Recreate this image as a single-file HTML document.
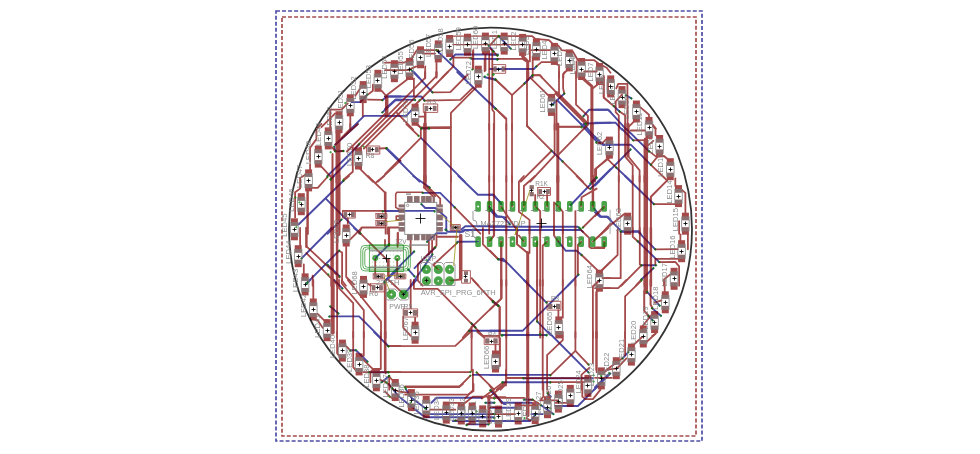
<!DOCTYPE html>
<html><head><meta charset="utf-8"><title>PCB layout</title>
<style>
html,body{margin:0;padding:0;background:#fff}
body{width:980px;height:454px;overflow:hidden}
svg{display:block}
text{font-family:"Liberation Sans",sans-serif}
</style></head><body>
<svg width="980" height="454" viewBox="0 0 980 454">
<rect width="980" height="454" fill="#fff"/>
<g opacity="0.706">
<polyline points="437.7,51.4 465.3,77.7" fill="none" stroke="rgb(0,0,128)" stroke-width="1.9" stroke-linecap="round" stroke-linejoin="round"/>
<polyline points="450.3,59.5 455.3,54.5 498,54.5" fill="none" stroke="rgb(0,0,128)" stroke-width="1.9" stroke-linecap="round" stroke-linejoin="round"/>
<polyline points="471.6,58.9 498,58.9" fill="none" stroke="rgb(0,0,128)" stroke-width="1.9" stroke-linecap="round" stroke-linejoin="round"/>
<polyline points="412,70.8 418.9,77.7" fill="none" stroke="rgb(0,0,128)" stroke-width="1.9" stroke-linecap="round" stroke-linejoin="round"/>
<polyline points="488.6,45.7 493.6,51.4" fill="none" stroke="rgb(0,0,128)" stroke-width="1.9" stroke-linecap="round" stroke-linejoin="round"/>
<polyline points="490,54.5 497.5,54.9" fill="none" stroke="rgb(0,0,128)" stroke-width="1.9" stroke-linecap="round" stroke-linejoin="round"/>
<polyline points="490,58.9 497.5,59.2" fill="none" stroke="rgb(0,0,128)" stroke-width="1.9" stroke-linecap="round" stroke-linejoin="round"/>
<polyline points="490,69 533.9,69 536.4,66.4" fill="none" stroke="rgb(0,0,128)" stroke-width="1.9" stroke-linecap="round" stroke-linejoin="round"/>
<polyline points="498.8,36.3 510.7,48.6" fill="none" stroke="rgb(0,0,128)" stroke-width="1.9" stroke-linecap="round" stroke-linejoin="round"/>
<polyline points="595,109.7 608.2,109.7 626.4,129.7" fill="none" stroke="rgb(0,0,128)" stroke-width="1.9" stroke-linecap="round" stroke-linejoin="round"/>
<polyline points="595,122.8 615.7,122.8 622,129.7" fill="none" stroke="rgb(0,0,128)" stroke-width="1.9" stroke-linecap="round" stroke-linejoin="round"/>
<polyline points="625.8,95.2 631.4,98.4" fill="none" stroke="rgb(0,0,128)" stroke-width="1.9" stroke-linecap="round" stroke-linejoin="round"/>
<polyline points="613.8,106.1 619.5,111.5" fill="none" stroke="rgb(0,0,128)" stroke-width="1.9" stroke-linecap="round" stroke-linejoin="round"/>
<polyline points="626.4,129 649.2,151.4" fill="none" stroke="rgb(0,0,128)" stroke-width="1.9" stroke-linecap="round" stroke-linejoin="round"/>
<polyline points="622,129 633.3,140.3" fill="none" stroke="rgb(0,0,128)" stroke-width="1.9" stroke-linecap="round" stroke-linejoin="round"/>
<polyline points="595,136.6 603.2,144.7 630.8,144.7 650.9,164.8" fill="none" stroke="rgb(0,0,128)" stroke-width="1.9" stroke-linecap="round" stroke-linejoin="round"/>
<polyline points="630.5,149.5 598.8,181.7" fill="none" stroke="rgb(0,0,128)" stroke-width="1.9" stroke-linecap="round" stroke-linejoin="round"/>
<polyline points="616.3,167.6 631.4,181.7" fill="none" stroke="rgb(0,0,128)" stroke-width="1.9" stroke-linecap="round" stroke-linejoin="round"/>
<polyline points="595,185.5 598.8,181.8" fill="none" stroke="rgb(0,0,128)" stroke-width="1.9" stroke-linecap="round" stroke-linejoin="round"/>
<polyline points="625.1,176 654,204.2" fill="none" stroke="rgb(0,0,128)" stroke-width="1.9" stroke-linecap="round" stroke-linejoin="round"/>
<polyline points="595,212.4 600,216.8 606.9,216.8 621.4,231.2 638.9,231.2 640.8,233.7" fill="none" stroke="rgb(0,0,128)" stroke-width="1.9" stroke-linecap="round" stroke-linejoin="round"/>
<polyline points="620.7,231.8 638.3,231.8 655.3,249.3" fill="none" stroke="rgb(0,0,128)" stroke-width="1.9" stroke-linecap="round" stroke-linejoin="round"/>
<polyline points="637.7,241.2 659.3,262.1" fill="none" stroke="rgb(0,0,128)" stroke-width="1.9" stroke-linecap="round" stroke-linejoin="round"/>
<polyline points="641.4,265.3 655.9,265.3" fill="none" stroke="rgb(0,0,128)" stroke-width="1.9" stroke-linecap="round" stroke-linejoin="round"/>
<polyline points="653.4,268.2 641.4,279.5" fill="none" stroke="rgb(0,0,128)" stroke-width="1.9" stroke-linecap="round" stroke-linejoin="round"/>
<polyline points="647.1,291.9 659.6,305.7" fill="none" stroke="rgb(0,0,128)" stroke-width="1.9" stroke-linecap="round" stroke-linejoin="round"/>
<polyline points="652.1,308.2 660.9,315.8" fill="none" stroke="rgb(0,0,128)" stroke-width="1.9" stroke-linecap="round" stroke-linejoin="round"/>
<polyline points="648.3,315.8 652.7,320.4" fill="none" stroke="rgb(0,0,128)" stroke-width="1.9" stroke-linecap="round" stroke-linejoin="round"/>
<polyline points="628.3,352.1 622.6,358.4" fill="none" stroke="rgb(0,0,128)" stroke-width="1.9" stroke-linecap="round" stroke-linejoin="round"/>
<polyline points="609.4,373.4 595,387.2" fill="none" stroke="rgb(0,0,128)" stroke-width="1.9" stroke-linecap="round" stroke-linejoin="round"/>
<polyline points="490.6,390.3 502.6,402.8 531.4,402.8" fill="none" stroke="rgb(0,0,128)" stroke-width="1.9" stroke-linecap="round" stroke-linejoin="round"/>
<polyline points="490,407.8 516.4,407.8" fill="none" stroke="rgb(0,0,128)" stroke-width="1.9" stroke-linecap="round" stroke-linejoin="round"/>
<polyline points="490,414.1 495,414.1" fill="none" stroke="rgb(0,0,128)" stroke-width="1.9" stroke-linecap="round" stroke-linejoin="round"/>
<polyline points="531.4,414.1 542.7,414.1" fill="none" stroke="rgb(0,0,128)" stroke-width="1.9" stroke-linecap="round" stroke-linejoin="round"/>
<polyline points="490,421 530.2,421 535.2,414.8" fill="none" stroke="rgb(0,0,128)" stroke-width="1.9" stroke-linecap="round" stroke-linejoin="round"/>
<polyline points="523.9,399.7 532.7,399.7" fill="none" stroke="rgb(0,0,128)" stroke-width="1.9" stroke-linecap="round" stroke-linejoin="round"/>
<polyline points="555.3,406 577.9,406 597.9,385.9" fill="none" stroke="rgb(0,0,128)" stroke-width="1.9" stroke-linecap="round" stroke-linejoin="round"/>
<polyline points="540.8,405.1 553.4,414.1" fill="none" stroke="rgb(0,0,128)" stroke-width="1.9" stroke-linecap="round" stroke-linejoin="round"/>
<polyline points="547.7,393.4 550.9,396.6" fill="none" stroke="rgb(0,0,128)" stroke-width="1.9" stroke-linecap="round" stroke-linejoin="round"/>
<polyline points="431.4,402.8 436.5,397.8 481.7,397.8" fill="none" stroke="rgb(0,0,128)" stroke-width="1.9" stroke-linecap="round" stroke-linejoin="round"/>
<polyline points="430.2,414.1 494.2,414.1" fill="none" stroke="rgb(0,0,128)" stroke-width="1.9" stroke-linecap="round" stroke-linejoin="round"/>
<polyline points="426.4,417.3 494.2,417.3" fill="none" stroke="rgb(0,0,128)" stroke-width="1.9" stroke-linecap="round" stroke-linejoin="round"/>
<polyline points="452.8,421 489.2,421" fill="none" stroke="rgb(0,0,128)" stroke-width="1.9" stroke-linecap="round" stroke-linejoin="round"/>
<polyline points="466.6,424.4 487.9,424.4" fill="none" stroke="rgb(0,0,128)" stroke-width="1.9" stroke-linecap="round" stroke-linejoin="round"/>
<polyline points="490.4,390.3 504.2,404.1 505.5,404.1" fill="none" stroke="rgb(0,0,128)" stroke-width="1.9" stroke-linecap="round" stroke-linejoin="round"/>
<polyline points="388.8,384 398.8,396.6 422.7,415.4 426.4,417.3" fill="none" stroke="rgb(0,0,128)" stroke-width="1.9" stroke-linecap="round" stroke-linejoin="round"/>
<polyline points="405.7,389 411.4,397.8 426.4,409.1" fill="none" stroke="rgb(0,0,128)" stroke-width="1.9" stroke-linecap="round" stroke-linejoin="round"/>
<polyline points="485.4,402.8 494.2,402.8" fill="none" stroke="rgb(0,0,128)" stroke-width="1.9" stroke-linecap="round" stroke-linejoin="round"/>
<polyline points="374.1,332 388.6,346.4" fill="none" stroke="rgb(0,0,128)" stroke-width="1.9" stroke-linecap="round" stroke-linejoin="round"/>
<polyline points="350.3,350.2 355.9,350.2 367.5,361.7" fill="none" stroke="rgb(0,0,128)" stroke-width="1.9" stroke-linecap="round" stroke-linejoin="round"/>
<polyline points="368.7,372.2 388.6,372.2" fill="none" stroke="rgb(0,0,128)" stroke-width="1.9" stroke-linecap="round" stroke-linejoin="round"/>
<polyline points="381.7,382.2 389.2,375.9" fill="none" stroke="rgb(0,0,128)" stroke-width="1.9" stroke-linecap="round" stroke-linejoin="round"/>
<polyline points="334,280 342.4,288.4" fill="none" stroke="rgb(0,0,128)" stroke-width="1.9" stroke-linecap="round" stroke-linejoin="round"/>
<polyline points="330.2,306.4 338.4,313.5" fill="none" stroke="rgb(0,0,128)" stroke-width="1.9" stroke-linecap="round" stroke-linejoin="round"/>
<polyline points="329.3,316.4 359.1,316.4 380.4,337.7" fill="none" stroke="rgb(0,0,128)" stroke-width="1.9" stroke-linecap="round" stroke-linejoin="round"/>
<polyline points="307.6,282.5 310.1,280" fill="none" stroke="rgb(0,0,128)" stroke-width="1.9" stroke-linecap="round" stroke-linejoin="round"/>
<polyline points="301.6,258.4 331.5,228" fill="none" stroke="rgb(0,0,128)" stroke-width="1.9" stroke-linecap="round" stroke-linejoin="round"/>
<polyline points="307,282.9 339.2,250.6" fill="none" stroke="rgb(0,0,128)" stroke-width="1.9" stroke-linecap="round" stroke-linejoin="round"/>
<polyline points="327.7,265 339.6,276.3" fill="none" stroke="rgb(0,0,128)" stroke-width="1.9" stroke-linecap="round" stroke-linejoin="round"/>
<polyline points="354.1,228 360.3,233.3" fill="none" stroke="rgb(0,0,128)" stroke-width="1.9" stroke-linecap="round" stroke-linejoin="round"/>
<polyline points="375.4,258.1 389.2,244.3" fill="none" stroke="rgb(0,0,128)" stroke-width="1.9" stroke-linecap="round" stroke-linejoin="round"/>
<polyline points="384.2,282.2 400.5,266.9" fill="none" stroke="rgb(0,0,128)" stroke-width="1.9" stroke-linecap="round" stroke-linejoin="round"/>
<polyline points="298.8,224.3 343.4,180.8" fill="none" stroke="rgb(0,0,128)" stroke-width="1.9" stroke-linecap="round" stroke-linejoin="round"/>
<polyline points="325.8,198.6 360.3,233.7" fill="none" stroke="rgb(0,0,128)" stroke-width="1.9" stroke-linecap="round" stroke-linejoin="round"/>
<polyline points="327.7,233.7 341.5,219.6" fill="none" stroke="rgb(0,0,128)" stroke-width="1.9" stroke-linecap="round" stroke-linejoin="round"/>
<polyline points="382.7,211.1 400.5,211.1" fill="none" stroke="rgb(0,0,128)" stroke-width="1.9" stroke-linecap="round" stroke-linejoin="round"/>
<polyline points="330.6,179.5 334,176" fill="none" stroke="rgb(0,0,128)" stroke-width="1.9" stroke-linecap="round" stroke-linejoin="round"/>
<polyline points="386.7,148.1 400.5,161.4" fill="none" stroke="rgb(0,0,128)" stroke-width="1.9" stroke-linecap="round" stroke-linejoin="round"/>
<polyline points="335.2,144.7 357.8,124" fill="none" stroke="rgb(0,0,128)" stroke-width="1.9" stroke-linecap="round" stroke-linejoin="round"/>
<polyline points="327.7,175.7 356.6,147.2 359.3,144.1" fill="none" stroke="rgb(0,0,128)" stroke-width="1.9" stroke-linecap="round" stroke-linejoin="round"/>
<polyline points="334,175.7 350.3,159.1" fill="none" stroke="rgb(0,0,128)" stroke-width="1.9" stroke-linecap="round" stroke-linejoin="round"/>
<polyline points="334.2,146.6 335.2,151.4 343.4,151" fill="none" stroke="rgb(0,0,128)" stroke-width="1.9" stroke-linecap="round" stroke-linejoin="round"/>
<polyline points="351.5,102.1 360.3,102.1 367.2,94.6" fill="none" stroke="rgb(0,0,128)" stroke-width="1.9" stroke-linecap="round" stroke-linejoin="round"/>
<polyline points="382.3,100.2 386.7,96.5 400.5,96.5" fill="none" stroke="rgb(0,0,128)" stroke-width="1.9" stroke-linecap="round" stroke-linejoin="round"/>
<polyline points="382.3,112.4 395.5,100.2 400.5,100.2" fill="none" stroke="rgb(0,0,128)" stroke-width="1.9" stroke-linecap="round" stroke-linejoin="round"/>
<polyline points="350.3,129.7 364.1,115.9 400.5,115.9" fill="none" stroke="rgb(0,0,128)" stroke-width="1.9" stroke-linecap="round" stroke-linejoin="round"/>
<polyline points="413.9,72 432.4,92.3" fill="none" stroke="rgb(0,0,128)" stroke-width="1.9" stroke-linecap="round" stroke-linejoin="round"/>
<polyline points="385,96.5 421.4,96.5 424.5,100.6" fill="none" stroke="rgb(0,0,128)" stroke-width="1.9" stroke-linecap="round" stroke-linejoin="round"/>
<polyline points="385,109 395.7,99.4 415.1,99.9" fill="none" stroke="rgb(0,0,128)" stroke-width="1.9" stroke-linecap="round" stroke-linejoin="round"/>
<polyline points="385,115.9 406.3,115.9 412,109.7" fill="none" stroke="rgb(0,0,128)" stroke-width="1.9" stroke-linecap="round" stroke-linejoin="round"/>
<polyline points="457.2,72 495.5,108.7" fill="none" stroke="rgb(0,0,128)" stroke-width="1.9" stroke-linecap="round" stroke-linejoin="round"/>
<polyline points="484.2,77 495.5,79.8" fill="none" stroke="rgb(0,0,128)" stroke-width="1.9" stroke-linecap="round" stroke-linejoin="round"/>
<polyline points="421.4,128.1 428.9,128.1" fill="none" stroke="rgb(0,0,128)" stroke-width="1.9" stroke-linecap="round" stroke-linejoin="round"/>
<polyline points="524.5,83.5 532.4,75.5" fill="none" stroke="rgb(0,0,128)" stroke-width="1.9" stroke-linecap="round" stroke-linejoin="round"/>
<polyline points="551.5,105.3 564.3,93.6" fill="none" stroke="rgb(0,0,128)" stroke-width="1.9" stroke-linecap="round" stroke-linejoin="round"/>
<polyline points="557.2,100.2 585.4,128.5" fill="none" stroke="rgb(0,0,128)" stroke-width="1.9" stroke-linecap="round" stroke-linejoin="round"/>
<polyline points="583.5,116.2 589.2,109.7 608,109.7 610.5,111.9" fill="none" stroke="rgb(0,0,128)" stroke-width="1.9" stroke-linecap="round" stroke-linejoin="round"/>
<polyline points="585.4,123.5 610.5,122.8" fill="none" stroke="rgb(0,0,128)" stroke-width="1.9" stroke-linecap="round" stroke-linejoin="round"/>
<polyline points="490,78.3 495.6,79.5" fill="none" stroke="rgb(0,0,128)" stroke-width="1.9" stroke-linecap="round" stroke-linejoin="round"/>
<polyline points="490,102.8 495.6,108.7" fill="none" stroke="rgb(0,0,128)" stroke-width="1.9" stroke-linecap="round" stroke-linejoin="round"/>
<polyline points="386.3,148.5 419.5,181.7" fill="none" stroke="rgb(0,0,128)" stroke-width="1.9" stroke-linecap="round" stroke-linejoin="round"/>
<polyline points="421.2,138.1 464.7,181.7" fill="none" stroke="rgb(0,0,128)" stroke-width="1.9" stroke-linecap="round" stroke-linejoin="round"/>
<polyline points="421.4,128.6 429.2,128.6" fill="none" stroke="rgb(0,0,128)" stroke-width="1.9" stroke-linecap="round" stroke-linejoin="round"/>
<polyline points="581,124 596.7,141.6 603,144.7 610.5,144.7" fill="none" stroke="rgb(0,0,128)" stroke-width="1.9" stroke-linecap="round" stroke-linejoin="round"/>
<polyline points="583.5,124 597.9,140.3" fill="none" stroke="rgb(0,0,128)" stroke-width="1.9" stroke-linecap="round" stroke-linejoin="round"/>
<polyline points="551.5,150.6 562.6,161.4" fill="none" stroke="rgb(0,0,128)" stroke-width="1.9" stroke-linecap="round" stroke-linejoin="round"/>
<polyline points="597.9,181.7 610.5,169.2" fill="none" stroke="rgb(0,0,128)" stroke-width="1.9" stroke-linecap="round" stroke-linejoin="round"/>
<polyline points="591.7,181.7 596.4,177.7" fill="none" stroke="rgb(0,0,128)" stroke-width="1.9" stroke-linecap="round" stroke-linejoin="round"/>
<polyline points="413.2,176 429.6,187.5" fill="none" stroke="rgb(0,0,128)" stroke-width="1.9" stroke-linecap="round" stroke-linejoin="round"/>
<polyline points="422.7,192.9 440.2,192.9 454.7,207.4" fill="none" stroke="rgb(0,0,128)" stroke-width="1.9" stroke-linecap="round" stroke-linejoin="round"/>
<polyline points="421.4,204.2 425.2,208 435.2,208 446.3,217.4 446.3,230" fill="none" stroke="rgb(0,0,128)" stroke-width="1.9" stroke-linecap="round" stroke-linejoin="round"/>
<polyline points="385,210.9 434.6,210.9" fill="none" stroke="rgb(0,0,128)" stroke-width="1.9" stroke-linecap="round" stroke-linejoin="round"/>
<polyline points="458.4,176 477.9,194.8 492.9,194.8 500.5,202.4" fill="none" stroke="rgb(0,0,128)" stroke-width="1.9" stroke-linecap="round" stroke-linejoin="round"/>
<polyline points="489.2,206.8 497.3,216.2 505.5,217.4" fill="none" stroke="rgb(0,0,128)" stroke-width="1.9" stroke-linecap="round" stroke-linejoin="round"/>
<polyline points="461.6,229.3 465.3,226.2 505.5,226.2" fill="none" stroke="rgb(0,0,128)" stroke-width="1.9" stroke-linecap="round" stroke-linejoin="round"/>
<polyline points="459.7,232.5 464.1,230 505.5,230" fill="none" stroke="rgb(0,0,128)" stroke-width="1.9" stroke-linecap="round" stroke-linejoin="round"/>
<polyline points="490,194.8 493.8,194.8 501.3,204.2" fill="none" stroke="rgb(0,0,128)" stroke-width="1.9" stroke-linecap="round" stroke-linejoin="round"/>
<polyline points="490,209.9 496.3,216.8 502.6,216.8 510.1,224.3" fill="none" stroke="rgb(0,0,128)" stroke-width="1.9" stroke-linecap="round" stroke-linejoin="round"/>
<polyline points="490,226.8 577.9,226.8 582.9,231.9" fill="none" stroke="rgb(0,0,128)" stroke-width="1.9" stroke-linecap="round" stroke-linejoin="round"/>
<polyline points="490,230 580.4,230" fill="none" stroke="rgb(0,0,128)" stroke-width="1.9" stroke-linecap="round" stroke-linejoin="round"/>
<polyline points="570.3,205.5 596.7,177.9" fill="none" stroke="rgb(0,0,128)" stroke-width="1.9" stroke-linecap="round" stroke-linejoin="round"/>
<polyline points="590.4,188.8 604.2,176" fill="none" stroke="rgb(0,0,128)" stroke-width="1.9" stroke-linecap="round" stroke-linejoin="round"/>
<polyline points="594.2,208.6 601.1,216.8 608,216.8 610.5,219.3" fill="none" stroke="rgb(0,0,128)" stroke-width="1.9" stroke-linecap="round" stroke-linejoin="round"/>
<polyline points="445.3,229.3 447.8,231.8 462.8,231.8 465.3,229.9 505.5,229.9" fill="none" stroke="rgb(0,0,128)" stroke-width="1.9" stroke-linecap="round" stroke-linejoin="round"/>
<polyline points="427.1,241.8 436.5,233.3 446.5,233.3" fill="none" stroke="rgb(0,0,128)" stroke-width="1.9" stroke-linecap="round" stroke-linejoin="round"/>
<polyline points="457.2,241.8 478.1,241.6" fill="none" stroke="rgb(0,0,128)" stroke-width="1.9" stroke-linecap="round" stroke-linejoin="round"/>
<polyline points="435.2,247.5 414.5,268.2" fill="none" stroke="rgb(0,0,128)" stroke-width="1.9" stroke-linecap="round" stroke-linejoin="round"/>
<polyline points="432.4,254.4 410.7,285.7" fill="none" stroke="rgb(0,0,128)" stroke-width="1.9" stroke-linecap="round" stroke-linejoin="round"/>
<polyline points="414.1,251.5 385,280.7" fill="none" stroke="rgb(0,0,128)" stroke-width="1.9" stroke-linecap="round" stroke-linejoin="round"/>
<polyline points="408.2,269.4 414.5,276.3" fill="none" stroke="rgb(0,0,128)" stroke-width="1.9" stroke-linecap="round" stroke-linejoin="round"/>
<polyline points="498,259.1 505.5,261.6" fill="none" stroke="rgb(0,0,128)" stroke-width="1.9" stroke-linecap="round" stroke-linejoin="round"/>
<polyline points="490,229.9 580.4,229.9" fill="none" stroke="rgb(0,0,128)" stroke-width="1.9" stroke-linecap="round" stroke-linejoin="round"/>
<polyline points="498.2,259.4 503.2,258.8 529.5,285.7" fill="none" stroke="rgb(0,0,128)" stroke-width="1.9" stroke-linecap="round" stroke-linejoin="round"/>
<polyline points="558.4,241.6 565.9,250.8 576.6,250.8 581.6,255" fill="none" stroke="rgb(0,0,128)" stroke-width="1.9" stroke-linecap="round" stroke-linejoin="round"/>
<polyline points="578.5,274.7 567.8,285.7" fill="none" stroke="rgb(0,0,128)" stroke-width="1.9" stroke-linecap="round" stroke-linejoin="round"/>
<polyline points="403.6,294.4 416.4,280" fill="none" stroke="rgb(0,0,128)" stroke-width="1.9" stroke-linecap="round" stroke-linejoin="round"/>
<polyline points="469.1,330.8 505.5,330.8" fill="none" stroke="rgb(0,0,128)" stroke-width="1.9" stroke-linecap="round" stroke-linejoin="round"/>
<polyline points="492.9,302 498.6,305.7" fill="none" stroke="rgb(0,0,128)" stroke-width="1.9" stroke-linecap="round" stroke-linejoin="round"/>
<polyline points="471.6,323.3 475.4,327.4" fill="none" stroke="rgb(0,0,128)" stroke-width="1.9" stroke-linecap="round" stroke-linejoin="round"/>
<polyline points="523.9,280 546.5,302.6" fill="none" stroke="rgb(0,0,128)" stroke-width="1.9" stroke-linecap="round" stroke-linejoin="round"/>
<polyline points="573.5,280 522.6,330.8 490,330.8" fill="none" stroke="rgb(0,0,128)" stroke-width="1.9" stroke-linecap="round" stroke-linejoin="round"/>
<polyline points="501.9,334.9 546.5,334.9" fill="none" stroke="rgb(0,0,128)" stroke-width="1.9" stroke-linecap="round" stroke-linejoin="round"/>
<polyline points="537.1,321.4 550.3,334.9" fill="none" stroke="rgb(0,0,128)" stroke-width="1.9" stroke-linecap="round" stroke-linejoin="round"/>
<polyline points="492.5,300.7 498.2,305.7" fill="none" stroke="rgb(0,0,128)" stroke-width="1.9" stroke-linecap="round" stroke-linejoin="round"/>
<polyline points="472.9,374.9 505.5,374.9" fill="none" stroke="rgb(0,0,128)" stroke-width="1.9" stroke-linecap="round" stroke-linejoin="round"/>
<polyline points="385,342.7 388.1,346.2" fill="none" stroke="rgb(0,0,128)" stroke-width="1.9" stroke-linecap="round" stroke-linejoin="round"/>
<polyline points="501.7,335.1 505.5,335.1" fill="none" stroke="rgb(0,0,128)" stroke-width="1.9" stroke-linecap="round" stroke-linejoin="round"/>
<polyline points="501.9,335.1 546.5,335.1" fill="none" stroke="rgb(0,0,128)" stroke-width="1.9" stroke-linecap="round" stroke-linejoin="round"/>
<polyline points="548.4,332 588.5,372.4" fill="none" stroke="rgb(0,0,128)" stroke-width="1.9" stroke-linecap="round" stroke-linejoin="round"/>
<polyline points="490,374.9 550.3,374.9" fill="none" stroke="rgb(0,0,128)" stroke-width="1.9" stroke-linecap="round" stroke-linejoin="round"/>
<polyline points="523.3,378.2 592.9,378.2" fill="none" stroke="rgb(0,0,128)" stroke-width="1.9" stroke-linecap="round" stroke-linejoin="round"/>
<polyline points="502.6,382.2 550.3,382.2" fill="none" stroke="rgb(0,0,128)" stroke-width="1.9" stroke-linecap="round" stroke-linejoin="round"/>
<polyline points="610.5,373.4 594.2,389.7" fill="none" stroke="rgb(0,0,128)" stroke-width="1.9" stroke-linecap="round" stroke-linejoin="round"/>
</g>
<g opacity="0.706">
<polyline points="446.5,36.1 505.5,36.1" fill="none" stroke="rgb(128,0,0)" stroke-width="1.2" stroke-linecap="round" stroke-linejoin="round"/>
<polyline points="452.8,44.6 505.5,44.6" fill="none" stroke="rgb(128,0,0)" stroke-width="1.2" stroke-linecap="round" stroke-linejoin="round"/>
<polyline points="412,57.7 417,50.1 437.7,50.1" fill="none" stroke="rgb(128,0,0)" stroke-width="1.8" stroke-linecap="round" stroke-linejoin="round"/>
<polyline points="422.7,53.6 435.2,53.6" fill="none" stroke="rgb(128,0,0)" stroke-width="1.8" stroke-linecap="round" stroke-linejoin="round"/>
<polyline points="425.2,66.4 425.2,77.7" fill="none" stroke="rgb(128,0,0)" stroke-width="1.8" stroke-linecap="round" stroke-linejoin="round"/>
<polyline points="436.5,61.4 436.5,77.7" fill="none" stroke="rgb(128,0,0)" stroke-width="1.8" stroke-linecap="round" stroke-linejoin="round"/>
<polyline points="453.4,57.7 453.4,66.4 442.1,77.7" fill="none" stroke="rgb(128,0,0)" stroke-width="1.8" stroke-linecap="round" stroke-linejoin="round"/>
<polyline points="453.4,57.7 471.6,57.7" fill="none" stroke="rgb(128,0,0)" stroke-width="1.8" stroke-linecap="round" stroke-linejoin="round"/>
<polyline points="472.9,51.4 472.9,69" fill="none" stroke="rgb(128,0,0)" stroke-width="2" stroke-linecap="round" stroke-linejoin="round"/>
<polyline points="485.4,51.4 485.4,70.2" fill="none" stroke="rgb(128,0,0)" stroke-width="2" stroke-linecap="round" stroke-linejoin="round"/>
<polyline points="385,62.7 403.8,62.7 408.8,60.2" fill="none" stroke="rgb(128,0,0)" stroke-width="1.8" stroke-linecap="round" stroke-linejoin="round"/>
<polyline points="385,70.2 407.6,70.2 416.4,66.4" fill="none" stroke="rgb(128,0,0)" stroke-width="1.8" stroke-linecap="round" stroke-linejoin="round"/>
<polyline points="490,36.1 532.1,36.1 535.2,38.8 549,40.1 552.8,43.8 558.4,45.7 561.5,50.1 572.8,51.4 577.9,60.2 594.2,60.2 599.2,63.9 606.7,67.7 610.5,72.7" fill="none" stroke="rgb(128,0,0)" stroke-width="1.8" stroke-linecap="round" stroke-linejoin="round"/>
<polyline points="490,44.6 530.2,44.6" fill="none" stroke="rgb(128,0,0)" stroke-width="1.2" stroke-linecap="round" stroke-linejoin="round"/>
<polyline points="529.9,45.1 529.9,61.4" fill="none" stroke="rgb(128,0,0)" stroke-width="1.8" stroke-linecap="round" stroke-linejoin="round"/>
<polyline points="531.4,50.1 550.3,50.1" fill="none" stroke="rgb(128,0,0)" stroke-width="1.8" stroke-linecap="round" stroke-linejoin="round"/>
<polyline points="522.6,56.4 527.7,61.4 527.7,77.7" fill="none" stroke="rgb(128,0,0)" stroke-width="3" stroke-linecap="round" stroke-linejoin="round"/>
<polyline points="497.5,58.9 522.6,58.9 526.4,61.4" fill="none" stroke="rgb(128,0,0)" stroke-width="1.8" stroke-linecap="round" stroke-linejoin="round"/>
<polyline points="532.7,56.4 532.7,77.7" fill="none" stroke="rgb(128,0,0)" stroke-width="1.8" stroke-linecap="round" stroke-linejoin="round"/>
<polyline points="536.4,66.4 541.5,62.1 551.5,62.1 559,65.2 559,77.7" fill="none" stroke="rgb(128,0,0)" stroke-width="1.8" stroke-linecap="round" stroke-linejoin="round"/>
<polyline points="563.4,77.7 563.4,74 567.2,70.2" fill="none" stroke="rgb(128,0,0)" stroke-width="1.8" stroke-linecap="round" stroke-linejoin="round"/>
<polyline points="576.6,77.7 576.6,61.4" fill="none" stroke="rgb(128,0,0)" stroke-width="1.8" stroke-linecap="round" stroke-linejoin="round"/>
<polyline points="584.1,71.5 596.7,71.5" fill="none" stroke="rgb(128,0,0)" stroke-width="1.8" stroke-linecap="round" stroke-linejoin="round"/>
<polyline points="498.8,35.7 490,45.1" fill="none" stroke="rgb(128,0,0)" stroke-width="1.8" stroke-linecap="round" stroke-linejoin="round"/>
<polyline points="490,48.2 497.5,55.8" fill="none" stroke="rgb(128,0,0)" stroke-width="1.8" stroke-linecap="round" stroke-linejoin="round"/>
<polyline points="492.5,64.6 505.7,64.6 505.7,73.3 492.5,73.3 492.5,64.6" fill="none" stroke="rgb(128,0,0)" stroke-width="0.9" stroke-linecap="round" stroke-linejoin="round"/>
<polyline points="532.7,75.2 540.2,75.2 542.1,77.7" fill="none" stroke="rgb(128,0,0)" stroke-width="1.8" stroke-linecap="round" stroke-linejoin="round"/>
<polyline points="603.8,75.8 603.8,97.7 613.8,106.1" fill="none" stroke="rgb(128,0,0)" stroke-width="1.8" stroke-linecap="round" stroke-linejoin="round"/>
<polyline points="619.5,111.5 625.1,115.3 625.1,129.7" fill="none" stroke="rgb(128,0,0)" stroke-width="1.8" stroke-linecap="round" stroke-linejoin="round"/>
<polyline points="616.3,88.3 618.2,83.9 627.4,83.9 627.6,129.7" fill="none" stroke="rgb(128,0,0)" stroke-width="1.8" stroke-linecap="round" stroke-linejoin="round"/>
<polyline points="622,94.6 615.7,101.5 615.7,112.2 618.8,115.3 618.8,129.7" fill="none" stroke="rgb(128,0,0)" stroke-width="1.8" stroke-linecap="round" stroke-linejoin="round"/>
<polyline points="640.2,107.1 649,114.7 649,118.4" fill="none" stroke="rgb(128,0,0)" stroke-width="1.8" stroke-linecap="round" stroke-linejoin="round"/>
<polyline points="633.9,121.6 628.3,127.2 628.3,129.7" fill="none" stroke="rgb(128,0,0)" stroke-width="1.8" stroke-linecap="round" stroke-linejoin="round"/>
<polyline points="652.7,124.7 655.9,128.5" fill="none" stroke="rgb(128,0,0)" stroke-width="1.8" stroke-linecap="round" stroke-linejoin="round"/>
<polyline points="618.8,124 618.8,181.7" fill="none" stroke="rgb(128,0,0)" stroke-width="1.8" stroke-linecap="round" stroke-linejoin="round"/>
<polyline points="625.1,124 625.1,156.6 632.7,165.4 632.7,181.7" fill="none" stroke="rgb(128,0,0)" stroke-width="1.8" stroke-linecap="round" stroke-linejoin="round"/>
<polyline points="627.9,124 627.9,156" fill="none" stroke="rgb(128,0,0)" stroke-width="3.2" stroke-linecap="round" stroke-linejoin="round"/>
<polyline points="627.9,156 639.6,170.4 639.6,181.7" fill="none" stroke="rgb(128,0,0)" stroke-width="1.8" stroke-linecap="round" stroke-linejoin="round"/>
<polyline points="645.8,139.7 645.8,181.7" fill="none" stroke="rgb(128,0,0)" stroke-width="4.5" stroke-linecap="round" stroke-linejoin="round"/>
<polyline points="630.8,130.5 645.2,130.5" fill="none" stroke="rgb(128,0,0)" stroke-width="1.8" stroke-linecap="round" stroke-linejoin="round"/>
<polyline points="633.3,140.3 645.2,140.1" fill="none" stroke="rgb(128,0,0)" stroke-width="1.8" stroke-linecap="round" stroke-linejoin="round"/>
<polyline points="652.7,125.9 655.5,129 655.5,135.3 659,137.2" fill="none" stroke="rgb(128,0,0)" stroke-width="1.8" stroke-linecap="round" stroke-linejoin="round"/>
<polyline points="659.6,154.1 650.9,164.8" fill="none" stroke="rgb(128,0,0)" stroke-width="1.8" stroke-linecap="round" stroke-linejoin="round"/>
<polyline points="649.2,151.4 656.5,156.9 664,156 668.4,159.8" fill="none" stroke="rgb(128,0,0)" stroke-width="1.8" stroke-linecap="round" stroke-linejoin="round"/>
<polyline points="650.9,164.8 667.2,180.5" fill="none" stroke="rgb(128,0,0)" stroke-width="1.8" stroke-linecap="round" stroke-linejoin="round"/>
<polyline points="609.4,157.9 595,169.2 595,181.7" fill="none" stroke="rgb(128,0,0)" stroke-width="1.8" stroke-linecap="round" stroke-linejoin="round"/>
<polyline points="607.6,159.1 616.3,167.6" fill="none" stroke="rgb(128,0,0)" stroke-width="1.8" stroke-linecap="round" stroke-linejoin="round"/>
<polyline points="596.3,142.6 602.5,142.8 606.3,139.1" fill="none" stroke="rgb(128,0,0)" stroke-width="1.8" stroke-linecap="round" stroke-linejoin="round"/>
<polyline points="646.5,146.6 653.4,140.9" fill="none" stroke="rgb(128,0,0)" stroke-width="1.8" stroke-linecap="round" stroke-linejoin="round"/>
<polyline points="618.8,176 618.8,212.4" fill="none" stroke="rgb(128,0,0)" stroke-width="1.8" stroke-linecap="round" stroke-linejoin="round"/>
<polyline points="623.9,214.3 607.6,227.5 601.3,233.7" fill="none" stroke="rgb(128,0,0)" stroke-width="1.8" stroke-linecap="round" stroke-linejoin="round"/>
<polyline points="604.4,206.8 595,216.2" fill="none" stroke="rgb(128,0,0)" stroke-width="1.8" stroke-linecap="round" stroke-linejoin="round"/>
<polyline points="632.7,176 632.7,233.7" fill="none" stroke="rgb(128,0,0)" stroke-width="1.8" stroke-linecap="round" stroke-linejoin="round"/>
<polyline points="639.6,176 639.6,233.7" fill="none" stroke="rgb(128,0,0)" stroke-width="1.8" stroke-linecap="round" stroke-linejoin="round"/>
<polyline points="645.8,176 645.8,233.7" fill="none" stroke="rgb(128,0,0)" stroke-width="4.5" stroke-linecap="round" stroke-linejoin="round"/>
<polyline points="650.9,233.7 650.9,196.7 667.2,180.4" fill="none" stroke="rgb(128,0,0)" stroke-width="2" stroke-linecap="round" stroke-linejoin="round"/>
<polyline points="654,204.2 675.3,204.2" fill="none" stroke="rgb(128,0,0)" stroke-width="1.8" stroke-linecap="round" stroke-linejoin="round"/>
<polyline points="675.3,178.5 675.3,186" fill="none" stroke="rgb(128,0,0)" stroke-width="1.8" stroke-linecap="round" stroke-linejoin="round"/>
<polyline points="681.6,189.8 685.4,192.9 685.4,213.7" fill="none" stroke="rgb(128,0,0)" stroke-width="1.8" stroke-linecap="round" stroke-linejoin="round"/>
<polyline points="679.1,221.2 679.1,233.7" fill="none" stroke="rgb(128,0,0)" stroke-width="1.8" stroke-linecap="round" stroke-linejoin="round"/>
<polyline points="645.8,228 645.8,285.7" fill="none" stroke="rgb(128,0,0)" stroke-width="4.5" stroke-linecap="round" stroke-linejoin="round"/>
<polyline points="650.9,228 650.9,285.7" fill="none" stroke="rgb(128,0,0)" stroke-width="2.5" stroke-linecap="round" stroke-linejoin="round"/>
<polyline points="639.8,228 639.8,264.4 641.4,265.3 621.4,285.7" fill="none" stroke="rgb(128,0,0)" stroke-width="1.8" stroke-linecap="round" stroke-linejoin="round"/>
<polyline points="632.7,228 632.7,236.8 637.7,241.2" fill="none" stroke="rgb(128,0,0)" stroke-width="1.8" stroke-linecap="round" stroke-linejoin="round"/>
<polyline points="617.6,229.3 617.6,255 601.3,270.7" fill="none" stroke="rgb(128,0,0)" stroke-width="1.8" stroke-linecap="round" stroke-linejoin="round"/>
<polyline points="620.7,231.8 620.7,278.2 602.5,278.2" fill="none" stroke="rgb(128,0,0)" stroke-width="1.8" stroke-linecap="round" stroke-linejoin="round"/>
<polyline points="595,247.5 604.4,247.5 604.4,241.8" fill="none" stroke="rgb(128,0,0)" stroke-width="1.8" stroke-linecap="round" stroke-linejoin="round"/>
<polyline points="595,239.3 607.6,228" fill="none" stroke="rgb(128,0,0)" stroke-width="1.8" stroke-linecap="round" stroke-linejoin="round"/>
<polyline points="655.3,249.3 677.8,249.1" fill="none" stroke="rgb(128,0,0)" stroke-width="1.8" stroke-linecap="round" stroke-linejoin="round"/>
<polyline points="659.3,262.1 675.3,261.9 679.1,266.3 679.1,285.7" fill="none" stroke="rgb(128,0,0)" stroke-width="1.8" stroke-linecap="round" stroke-linejoin="round"/>
<polyline points="655.3,264.4 655.3,258.8 677.8,258.8" fill="none" stroke="rgb(128,0,0)" stroke-width="1.8" stroke-linecap="round" stroke-linejoin="round"/>
<polyline points="680.4,234.3 680.4,241.8" fill="none" stroke="rgb(128,0,0)" stroke-width="1.8" stroke-linecap="round" stroke-linejoin="round"/>
<polyline points="687.9,234.3 687.9,249.3" fill="none" stroke="rgb(128,0,0)" stroke-width="1.8" stroke-linecap="round" stroke-linejoin="round"/>
<polyline points="670.3,274.4 664,279.5 664,285.7" fill="none" stroke="rgb(128,0,0)" stroke-width="1.8" stroke-linecap="round" stroke-linejoin="round"/>
<polyline points="641.4,279.5 635.8,285.7" fill="none" stroke="rgb(128,0,0)" stroke-width="1.8" stroke-linecap="round" stroke-linejoin="round"/>
<polyline points="645.8,280 645.8,291.9" fill="none" stroke="rgb(128,0,0)" stroke-width="4.5" stroke-linecap="round" stroke-linejoin="round"/>
<polyline points="644.2,291.3 644.2,310.8 648.7,315.8" fill="none" stroke="rgb(128,0,0)" stroke-width="2" stroke-linecap="round" stroke-linejoin="round"/>
<polyline points="650.6,280 650.6,304.5 652.5,308.2" fill="none" stroke="rgb(128,0,0)" stroke-width="2" stroke-linecap="round" stroke-linejoin="round"/>
<polyline points="641.4,280.6 625.1,296.3 625.1,337.7" fill="none" stroke="rgb(128,0,0)" stroke-width="1.8" stroke-linecap="round" stroke-linejoin="round"/>
<polyline points="595,288.2 618.2,288.2 626.4,280" fill="none" stroke="rgb(128,0,0)" stroke-width="1.8" stroke-linecap="round" stroke-linejoin="round"/>
<polyline points="596.3,292.6 596.3,337.7" fill="none" stroke="rgb(128,0,0)" stroke-width="2" stroke-linecap="round" stroke-linejoin="round"/>
<polyline points="664.7,280 664.7,291.3" fill="none" stroke="rgb(128,0,0)" stroke-width="1.8" stroke-linecap="round" stroke-linejoin="round"/>
<polyline points="654.6,302.6 661.5,300.3" fill="none" stroke="rgb(128,0,0)" stroke-width="1.8" stroke-linecap="round" stroke-linejoin="round"/>
<polyline points="654,312 642.7,325.8" fill="none" stroke="rgb(128,0,0)" stroke-width="1.8" stroke-linecap="round" stroke-linejoin="round"/>
<polyline points="652.1,335.9 655.3,334" fill="none" stroke="rgb(128,0,0)" stroke-width="1.8" stroke-linecap="round" stroke-linejoin="round"/>
<polyline points="625.1,332 625.1,355.2" fill="none" stroke="rgb(128,0,0)" stroke-width="1.8" stroke-linecap="round" stroke-linejoin="round"/>
<polyline points="596.3,332 596.3,369.7" fill="none" stroke="rgb(128,0,0)" stroke-width="2" stroke-linecap="round" stroke-linejoin="round"/>
<polyline points="655.9,333.3 646.5,342" fill="none" stroke="rgb(128,0,0)" stroke-width="1.8" stroke-linecap="round" stroke-linejoin="round"/>
<polyline points="642.1,337 633.9,344.6" fill="none" stroke="rgb(128,0,0)" stroke-width="1.8" stroke-linecap="round" stroke-linejoin="round"/>
<polyline points="626.4,358.4 617,368.4 607.6,369.7 602.5,373.4" fill="none" stroke="rgb(128,0,0)" stroke-width="1.8" stroke-linecap="round" stroke-linejoin="round"/>
<polyline points="622,358.4 605,370.9" fill="none" stroke="rgb(128,0,0)" stroke-width="1.8" stroke-linecap="round" stroke-linejoin="round"/>
<polyline points="595,377.8 611.9,377.8" fill="none" stroke="rgb(128,0,0)" stroke-width="1.8" stroke-linecap="round" stroke-linejoin="round"/>
<polyline points="490,397.8 523.9,397.8 527.7,399.7 532.7,399.7 540.2,404.7" fill="none" stroke="rgb(128,0,0)" stroke-width="1.8" stroke-linecap="round" stroke-linejoin="round"/>
<polyline points="490,414.1 515.1,414.1" fill="none" stroke="rgb(128,0,0)" stroke-width="1.8" stroke-linecap="round" stroke-linejoin="round"/>
<polyline points="490,407.2 497.5,407.2" fill="none" stroke="rgb(128,0,0)" stroke-width="1.8" stroke-linecap="round" stroke-linejoin="round"/>
<polyline points="527.7,384 527.7,415.4" fill="none" stroke="rgb(128,0,0)" stroke-width="3.5" stroke-linecap="round" stroke-linejoin="round"/>
<polyline points="543.3,384 543.3,396.6 540.2,400.3 557.8,400.3" fill="none" stroke="rgb(128,0,0)" stroke-width="1.8" stroke-linecap="round" stroke-linejoin="round"/>
<polyline points="555.3,402.8 566.6,402.8" fill="none" stroke="rgb(128,0,0)" stroke-width="1.8" stroke-linecap="round" stroke-linejoin="round"/>
<polyline points="582.3,384 582.3,396.6 585.4,399.1 592.9,399.1 600.5,389.6" fill="none" stroke="rgb(128,0,0)" stroke-width="1.8" stroke-linecap="round" stroke-linejoin="round"/>
<polyline points="526.4,417.9 530.2,420.4" fill="none" stroke="rgb(128,0,0)" stroke-width="1.8" stroke-linecap="round" stroke-linejoin="round"/>
<polyline points="548.4,391.5 548.4,397.8" fill="none" stroke="rgb(128,0,0)" stroke-width="1.8" stroke-linecap="round" stroke-linejoin="round"/>
<polyline points="520.1,405.3 531.4,405.3" fill="none" stroke="rgb(128,0,0)" stroke-width="1.8" stroke-linecap="round" stroke-linejoin="round"/>
<polyline points="405.1,386.5 459.7,386.5 462.8,384" fill="none" stroke="rgb(128,0,0)" stroke-width="1.8" stroke-linecap="round" stroke-linejoin="round"/>
<polyline points="405.1,394.7 467.8,394.7 473.5,390.9 473.5,384" fill="none" stroke="rgb(128,0,0)" stroke-width="1.8" stroke-linecap="round" stroke-linejoin="round"/>
<polyline points="445.3,402.8 465.3,402.8 472.9,396.6 487.9,396.6" fill="none" stroke="rgb(128,0,0)" stroke-width="1.8" stroke-linecap="round" stroke-linejoin="round"/>
<polyline points="430.2,409.7 455.3,409.7" fill="none" stroke="rgb(128,0,0)" stroke-width="1.8" stroke-linecap="round" stroke-linejoin="round"/>
<polyline points="488.9,395.9 488.9,422.9" fill="none" stroke="rgb(128,0,0)" stroke-width="3" stroke-linecap="round" stroke-linejoin="round"/>
<polyline points="494.2,397.2 505.5,397.2" fill="none" stroke="rgb(128,0,0)" stroke-width="1.8" stroke-linecap="round" stroke-linejoin="round"/>
<polyline points="466.6,424.8 470.4,423.2 475.4,423.2" fill="none" stroke="rgb(128,0,0)" stroke-width="2" stroke-linecap="round" stroke-linejoin="round"/>
<polyline points="388.8,384 392.5,389 398.8,391.5 408.8,392.8" fill="none" stroke="rgb(128,0,0)" stroke-width="1.8" stroke-linecap="round" stroke-linejoin="round"/>
<polyline points="385,391.5 390,396.6 395,400.3" fill="none" stroke="rgb(128,0,0)" stroke-width="1.8" stroke-linecap="round" stroke-linejoin="round"/>
<polyline points="455.3,420.4 459.1,420.4" fill="none" stroke="rgb(128,0,0)" stroke-width="1.8" stroke-linecap="round" stroke-linejoin="round"/>
<polyline points="337.1,332 337.1,353.3 339,355.8" fill="none" stroke="rgb(128,0,0)" stroke-width="1.8" stroke-linecap="round" stroke-linejoin="round"/>
<polyline points="353.2,332 353.2,367.1 355.3,369.7" fill="none" stroke="rgb(128,0,0)" stroke-width="1.8" stroke-linecap="round" stroke-linejoin="round"/>
<polyline points="363.8,332 363.8,355.8" fill="none" stroke="rgb(128,0,0)" stroke-width="1.8" stroke-linecap="round" stroke-linejoin="round"/>
<polyline points="380.8,332 380.8,369 373.5,369 370.4,372.2 370.4,382.2" fill="none" stroke="rgb(128,0,0)" stroke-width="1.8" stroke-linecap="round" stroke-linejoin="round"/>
<polyline points="384.8,332 384.8,372.2" fill="none" stroke="rgb(128,0,0)" stroke-width="1.8" stroke-linecap="round" stroke-linejoin="round"/>
<polyline points="388.6,345.8 400.5,345.8" fill="none" stroke="rgb(128,0,0)" stroke-width="1.8" stroke-linecap="round" stroke-linejoin="round"/>
<polyline points="363.5,372.2 400.5,372.2" fill="none" stroke="rgb(128,0,0)" stroke-width="1.8" stroke-linecap="round" stroke-linejoin="round"/>
<polyline points="346.5,346.4 350.3,350.6" fill="none" stroke="rgb(128,0,0)" stroke-width="1.8" stroke-linecap="round" stroke-linejoin="round"/>
<polyline points="356.6,353.3 373.5,369.7" fill="none" stroke="rgb(128,0,0)" stroke-width="1.8" stroke-linecap="round" stroke-linejoin="round"/>
<polyline points="389.2,375.9 389.2,389.7" fill="none" stroke="rgb(128,0,0)" stroke-width="1.8" stroke-linecap="round" stroke-linejoin="round"/>
<polyline points="380.4,379.7 386.7,382.8 391.7,387.9" fill="none" stroke="rgb(128,0,0)" stroke-width="1.8" stroke-linecap="round" stroke-linejoin="round"/>
<polyline points="332.7,280 332.7,332.7" fill="none" stroke="rgb(128,0,0)" stroke-width="4" stroke-linecap="round" stroke-linejoin="round"/>
<polyline points="337.1,280 337.1,337.7" fill="none" stroke="rgb(128,0,0)" stroke-width="1.8" stroke-linecap="round" stroke-linejoin="round"/>
<polyline points="313.3,280 313.3,298.8" fill="none" stroke="rgb(128,0,0)" stroke-width="1.8" stroke-linecap="round" stroke-linejoin="round"/>
<polyline points="339,280 339,288.2 353.2,303.2 353.2,337.7" fill="none" stroke="rgb(128,0,0)" stroke-width="1.8" stroke-linecap="round" stroke-linejoin="round"/>
<polyline points="341.8,280 341.8,283.5 363.8,310.1 363.8,337.7" fill="none" stroke="rgb(128,0,0)" stroke-width="1.8" stroke-linecap="round" stroke-linejoin="round"/>
<polyline points="347.8,280 381,321.4 381,337.7" fill="none" stroke="rgb(128,0,0)" stroke-width="1.8" stroke-linecap="round" stroke-linejoin="round"/>
<polyline points="384.8,283.1 384.8,337.7" fill="none" stroke="rgb(128,0,0)" stroke-width="1.8" stroke-linecap="round" stroke-linejoin="round"/>
<polyline points="317.7,313.9 323.9,320.2 327.7,320.2" fill="none" stroke="rgb(128,0,0)" stroke-width="1.8" stroke-linecap="round" stroke-linejoin="round"/>
<polyline points="312,318.9 317.7,320.2 322.7,327.7" fill="none" stroke="rgb(128,0,0)" stroke-width="1.8" stroke-linecap="round" stroke-linejoin="round"/>
<polyline points="367.9,283.8 371,285.6" fill="none" stroke="rgb(128,0,0)" stroke-width="1.8" stroke-linecap="round" stroke-linejoin="round"/>
<polyline points="370.4,283.8 384.2,283.8 384.2,291.9 370.4,291.9 370.4,283.8" fill="none" stroke="rgb(128,0,0)" stroke-width="0.9" stroke-linecap="round" stroke-linejoin="round"/>
<polyline points="332.1,228 332.1,285.7" fill="none" stroke="rgb(128,0,0)" stroke-width="3.5" stroke-linecap="round" stroke-linejoin="round"/>
<polyline points="337.1,228 337.1,285.7" fill="none" stroke="rgb(128,0,0)" stroke-width="2.5" stroke-linecap="round" stroke-linejoin="round"/>
<polyline points="306.4,228 306.4,246.8" fill="none" stroke="rgb(128,0,0)" stroke-width="2.5" stroke-linecap="round" stroke-linejoin="round"/>
<polyline points="307,246.8 339.6,277.6" fill="none" stroke="rgb(128,0,0)" stroke-width="1.8" stroke-linecap="round" stroke-linejoin="round"/>
<polyline points="306.4,253.1 338.4,285.7" fill="none" stroke="rgb(128,0,0)" stroke-width="1.8" stroke-linecap="round" stroke-linejoin="round"/>
<polyline points="300.1,228 300.1,246.8" fill="none" stroke="rgb(128,0,0)" stroke-width="1.8" stroke-linecap="round" stroke-linejoin="round"/>
<polyline points="303.8,264.4 303.8,274.4" fill="none" stroke="rgb(128,0,0)" stroke-width="1.8" stroke-linecap="round" stroke-linejoin="round"/>
<polyline points="339.6,251.2 342.1,252.5 342.1,280.7 345.9,285.7" fill="none" stroke="rgb(128,0,0)" stroke-width="1.8" stroke-linecap="round" stroke-linejoin="round"/>
<polyline points="346.2,244.3 346.2,277 354.1,284.5" fill="none" stroke="rgb(128,0,0)" stroke-width="1.8" stroke-linecap="round" stroke-linejoin="round"/>
<polyline points="350.3,239.3 361.6,228" fill="none" stroke="rgb(128,0,0)" stroke-width="1.8" stroke-linecap="round" stroke-linejoin="round"/>
<polyline points="360.3,233.3 387.9,260.6 387.9,275.7" fill="none" stroke="rgb(128,0,0)" stroke-width="1.8" stroke-linecap="round" stroke-linejoin="round"/>
<polyline points="389.2,228 389.2,243.7" fill="none" stroke="rgb(128,0,0)" stroke-width="1.8" stroke-linecap="round" stroke-linejoin="round"/>
<polyline points="398,233 398,243.1" fill="none" stroke="rgb(128,0,0)" stroke-width="1.8" stroke-linecap="round" stroke-linejoin="round"/>
<polyline points="312.6,275.7 312.6,285.7" fill="none" stroke="rgb(128,0,0)" stroke-width="1.8" stroke-linecap="round" stroke-linejoin="round"/>
<polyline points="332.1,176 332.1,233.7" fill="none" stroke="rgb(128,0,0)" stroke-width="3.5" stroke-linecap="round" stroke-linejoin="round"/>
<polyline points="338,176 338,233.7" fill="none" stroke="rgb(128,0,0)" stroke-width="5" stroke-linecap="round" stroke-linejoin="round"/>
<polyline points="307.6,191.1 307.6,233.7" fill="none" stroke="rgb(128,0,0)" stroke-width="2.5" stroke-linecap="round" stroke-linejoin="round"/>
<polyline points="300.1,178.5 300.1,188.6 295.1,192.3 295.1,217.4" fill="none" stroke="rgb(128,0,0)" stroke-width="1.8" stroke-linecap="round" stroke-linejoin="round"/>
<polyline points="311.4,187.9 317.7,187.9 327.4,177" fill="none" stroke="rgb(128,0,0)" stroke-width="1.8" stroke-linecap="round" stroke-linejoin="round"/>
<polyline points="342.8,210.9 382.7,210.9" fill="none" stroke="rgb(128,0,0)" stroke-width="1.8" stroke-linecap="round" stroke-linejoin="round"/>
<polyline points="384.8,210.9 384.8,192.3 367.9,176" fill="none" stroke="rgb(128,0,0)" stroke-width="1.8" stroke-linecap="round" stroke-linejoin="round"/>
<polyline points="375.4,182.9 384.2,176" fill="none" stroke="rgb(128,0,0)" stroke-width="1.8" stroke-linecap="round" stroke-linejoin="round"/>
<polyline points="359.1,233.7 361.6,227.5 384.2,227.5" fill="none" stroke="rgb(128,0,0)" stroke-width="1.8" stroke-linecap="round" stroke-linejoin="round"/>
<polyline points="347.8,218.1 347.8,223.7" fill="none" stroke="rgb(128,0,0)" stroke-width="1.8" stroke-linecap="round" stroke-linejoin="round"/>
<polyline points="343.4,180.8 349,176" fill="none" stroke="rgb(128,0,0)" stroke-width="1.8" stroke-linecap="round" stroke-linejoin="round"/>
<polyline points="342.5,211.1 355.3,211.1 355.3,218.1 342.5,218.1 342.5,211.1" fill="none" stroke="rgb(128,0,0)" stroke-width="0.9" stroke-linecap="round" stroke-linejoin="round"/>
<polyline points="338,131.5 338,181.7" fill="none" stroke="rgb(128,0,0)" stroke-width="5" stroke-linecap="round" stroke-linejoin="round"/>
<polyline points="332.5,154.1 332.5,181.7" fill="none" stroke="rgb(128,0,0)" stroke-width="2" stroke-linecap="round" stroke-linejoin="round"/>
<polyline points="332.1,147.2 335.2,151.4 343.4,151" fill="none" stroke="rgb(128,0,0)" stroke-width="1.8" stroke-linecap="round" stroke-linejoin="round"/>
<polyline points="357.8,124 335.2,144.7" fill="none" stroke="rgb(128,0,0)" stroke-width="1.8" stroke-linecap="round" stroke-linejoin="round"/>
<polyline points="352.8,147.2 352.8,171.7 344,179.2" fill="none" stroke="rgb(128,0,0)" stroke-width="1.8" stroke-linecap="round" stroke-linejoin="round"/>
<polyline points="321.4,166.7 330.6,176.7" fill="none" stroke="rgb(128,0,0)" stroke-width="1.8" stroke-linecap="round" stroke-linejoin="round"/>
<polyline points="360.3,169.2 372.9,181.7" fill="none" stroke="rgb(128,0,0)" stroke-width="1.8" stroke-linecap="round" stroke-linejoin="round"/>
<polyline points="400.5,160.4 377.9,181.7" fill="none" stroke="rgb(128,0,0)" stroke-width="1.8" stroke-linecap="round" stroke-linejoin="round"/>
<polyline points="379.8,148.5 386.7,148.1" fill="none" stroke="rgb(128,0,0)" stroke-width="1.8" stroke-linecap="round" stroke-linejoin="round"/>
<polyline points="310.1,164.2 310.1,171.7 300.1,178" fill="none" stroke="rgb(128,0,0)" stroke-width="1.8" stroke-linecap="round" stroke-linejoin="round"/>
<polyline points="321.4,124 316.4,129 316.4,139.1 310.1,147.8 310.1,161.7" fill="none" stroke="rgb(128,0,0)" stroke-width="1.8" stroke-linecap="round" stroke-linejoin="round"/>
<polyline points="350.3,124 350.3,129 339,140.3" fill="none" stroke="rgb(128,0,0)" stroke-width="1.8" stroke-linecap="round" stroke-linejoin="round"/>
<polyline points="366.6,146 379.8,146 379.8,154.1 366.6,154.1 366.6,146" fill="none" stroke="rgb(128,0,0)" stroke-width="0.9" stroke-linecap="round" stroke-linejoin="round"/>
<polyline points="386.7,97.1 386.7,115.9" fill="none" stroke="rgb(128,0,0)" stroke-width="3.5" stroke-linecap="round" stroke-linejoin="round"/>
<polyline points="367.9,99.6 382.3,99.9" fill="none" stroke="rgb(128,0,0)" stroke-width="1.8" stroke-linecap="round" stroke-linejoin="round"/>
<polyline points="381.7,90.8 386.7,96.5" fill="none" stroke="rgb(128,0,0)" stroke-width="1.8" stroke-linecap="round" stroke-linejoin="round"/>
<polyline points="362.8,103.4 362.8,115.9" fill="none" stroke="rgb(128,0,0)" stroke-width="1.8" stroke-linecap="round" stroke-linejoin="round"/>
<polyline points="350.3,115.9 350.3,129.7" fill="none" stroke="rgb(128,0,0)" stroke-width="1.8" stroke-linecap="round" stroke-linejoin="round"/>
<polyline points="330.2,129.7 330.2,109.7 341.5,109.7 347.8,103.4" fill="none" stroke="rgb(128,0,0)" stroke-width="1.8" stroke-linecap="round" stroke-linejoin="round"/>
<polyline points="321.4,127.2 335.2,113.4" fill="none" stroke="rgb(128,0,0)" stroke-width="1.8" stroke-linecap="round" stroke-linejoin="round"/>
<polyline points="367.9,94.6 372.9,90.8 372.9,84.6" fill="none" stroke="rgb(128,0,0)" stroke-width="1.8" stroke-linecap="round" stroke-linejoin="round"/>
<polyline points="355.3,95.8 360.3,88.3" fill="none" stroke="rgb(128,0,0)" stroke-width="1.8" stroke-linecap="round" stroke-linejoin="round"/>
<polyline points="385,96.5 408.8,78.3" fill="none" stroke="rgb(128,0,0)" stroke-width="1.8" stroke-linecap="round" stroke-linejoin="round"/>
<polyline points="425.2,72 425.2,78.3" fill="none" stroke="rgb(128,0,0)" stroke-width="1.8" stroke-linecap="round" stroke-linejoin="round"/>
<polyline points="436.5,72 436.5,76.4" fill="none" stroke="rgb(128,0,0)" stroke-width="1.8" stroke-linecap="round" stroke-linejoin="round"/>
<polyline points="447.8,72 421.4,99 413.2,106.5" fill="none" stroke="rgb(128,0,0)" stroke-width="1.8" stroke-linecap="round" stroke-linejoin="round"/>
<polyline points="413.9,78.3 413.9,95.8" fill="none" stroke="rgb(128,0,0)" stroke-width="1.8" stroke-linecap="round" stroke-linejoin="round"/>
<polyline points="432.4,92.3 450.3,92.1 467.8,74.5" fill="none" stroke="rgb(128,0,0)" stroke-width="1.8" stroke-linecap="round" stroke-linejoin="round"/>
<polyline points="424.5,100.6 460.3,99.9 472.9,87.7" fill="none" stroke="rgb(128,0,0)" stroke-width="1.8" stroke-linecap="round" stroke-linejoin="round"/>
<polyline points="450.9,127.2 450.9,112.8 476,87.7" fill="none" stroke="rgb(128,0,0)" stroke-width="1.8" stroke-linecap="round" stroke-linejoin="round"/>
<polyline points="421.4,127.5 450.9,127.2" fill="none" stroke="rgb(128,0,0)" stroke-width="2" stroke-linecap="round" stroke-linejoin="round"/>
<polyline points="425.2,112.2 425.2,127.2" fill="none" stroke="rgb(128,0,0)" stroke-width="2.5" stroke-linecap="round" stroke-linejoin="round"/>
<polyline points="415.1,123.5 420.8,127.5" fill="none" stroke="rgb(128,0,0)" stroke-width="1.8" stroke-linecap="round" stroke-linejoin="round"/>
<polyline points="489.2,50.7 489.2,129.7" fill="none" stroke="rgb(128,0,0)" stroke-width="1.8" stroke-linecap="round" stroke-linejoin="round"/>
<polyline points="492.3,50.7 492.3,109.7 494.2,112.2 494.2,129.7" fill="none" stroke="rgb(128,0,0)" stroke-width="1.8" stroke-linecap="round" stroke-linejoin="round"/>
<polyline points="495.5,79.8 505.5,88.9" fill="none" stroke="rgb(128,0,0)" stroke-width="1.8" stroke-linecap="round" stroke-linejoin="round"/>
<polyline points="495.5,108.7 505.5,118.7" fill="none" stroke="rgb(128,0,0)" stroke-width="1.8" stroke-linecap="round" stroke-linejoin="round"/>
<polyline points="396.9,112.8 413.2,129.7" fill="none" stroke="rgb(128,0,0)" stroke-width="1.8" stroke-linecap="round" stroke-linejoin="round"/>
<polyline points="418.9,116.6 425.2,116.6" fill="none" stroke="rgb(128,0,0)" stroke-width="1.8" stroke-linecap="round" stroke-linejoin="round"/>
<polyline points="423.3,104 437.7,104 437.7,112.4 423.3,112.4 423.3,104" fill="none" stroke="rgb(128,0,0)" stroke-width="0.9" stroke-linecap="round" stroke-linejoin="round"/>
<polyline points="495.6,79.5 512,95.2 512,129.7" fill="none" stroke="rgb(128,0,0)" stroke-width="1.8" stroke-linecap="round" stroke-linejoin="round"/>
<polyline points="524.5,83.5 512,95.2" fill="none" stroke="rgb(128,0,0)" stroke-width="1.8" stroke-linecap="round" stroke-linejoin="round"/>
<polyline points="495.6,108.7 506.3,118.4 506.3,129.7" fill="none" stroke="rgb(128,0,0)" stroke-width="1.8" stroke-linecap="round" stroke-linejoin="round"/>
<polyline points="527.7,72 527.7,79.5" fill="none" stroke="rgb(128,0,0)" stroke-width="3" stroke-linecap="round" stroke-linejoin="round"/>
<polyline points="527,79.5 527,126 530.8,129.7" fill="none" stroke="rgb(128,0,0)" stroke-width="1.8" stroke-linecap="round" stroke-linejoin="round"/>
<polyline points="532.4,75.5 539.6,75.1 556.5,92.7" fill="none" stroke="rgb(128,0,0)" stroke-width="1.8" stroke-linecap="round" stroke-linejoin="round"/>
<polyline points="556.5,93.1 586,122.8" fill="none" stroke="rgb(128,0,0)" stroke-width="4" stroke-linecap="round" stroke-linejoin="round"/>
<polyline points="530.2,77.6 549,96.1" fill="none" stroke="rgb(128,0,0)" stroke-width="1.8" stroke-linecap="round" stroke-linejoin="round"/>
<polyline points="559,72 559,93.3" fill="none" stroke="rgb(128,0,0)" stroke-width="1.8" stroke-linecap="round" stroke-linejoin="round"/>
<polyline points="564.7,72 563.1,74.5 563.1,88.3 564.3,93.6" fill="none" stroke="rgb(128,0,0)" stroke-width="1.8" stroke-linecap="round" stroke-linejoin="round"/>
<polyline points="576,72 576,104.6 587.9,115.9 587.9,124.7 582.9,129.7" fill="none" stroke="rgb(128,0,0)" stroke-width="1.8" stroke-linecap="round" stroke-linejoin="round"/>
<polyline points="582.9,78.3 591.9,86.4 591.9,129.7" fill="none" stroke="rgb(128,0,0)" stroke-width="3" stroke-linecap="round" stroke-linejoin="round"/>
<polyline points="592.9,88.3 599.2,83.3" fill="none" stroke="rgb(128,0,0)" stroke-width="1.8" stroke-linecap="round" stroke-linejoin="round"/>
<polyline points="603.6,77 603.6,97.1 610.5,103.4" fill="none" stroke="rgb(128,0,0)" stroke-width="1.8" stroke-linecap="round" stroke-linejoin="round"/>
<polyline points="556.5,100.9 556.5,129.7" fill="none" stroke="rgb(128,0,0)" stroke-width="1.8" stroke-linecap="round" stroke-linejoin="round"/>
<polyline points="554.6,113.4 554.6,129.7" fill="none" stroke="rgb(128,0,0)" stroke-width="1.8" stroke-linecap="round" stroke-linejoin="round"/>
<polyline points="556.5,126.6 581.6,126.6" fill="none" stroke="rgb(128,0,0)" stroke-width="1.8" stroke-linecap="round" stroke-linejoin="round"/>
<polyline points="608,79.5 608,94.6" fill="none" stroke="rgb(128,0,0)" stroke-width="1.8" stroke-linecap="round" stroke-linejoin="round"/>
<polyline points="424.9,124 424.9,181.7" fill="none" stroke="rgb(128,0,0)" stroke-width="3.5" stroke-linecap="round" stroke-linejoin="round"/>
<polyline points="421.4,128 450.9,128 450.9,181.7" fill="none" stroke="rgb(128,0,0)" stroke-width="1.8" stroke-linecap="round" stroke-linejoin="round"/>
<polyline points="489.2,124 489.2,181.7" fill="none" stroke="rgb(128,0,0)" stroke-width="1.8" stroke-linecap="round" stroke-linejoin="round"/>
<polyline points="494,124 494,181.7" fill="none" stroke="rgb(128,0,0)" stroke-width="1.8" stroke-linecap="round" stroke-linejoin="round"/>
<polyline points="406.3,124 418.6,135.9" fill="none" stroke="rgb(128,0,0)" stroke-width="1.8" stroke-linecap="round" stroke-linejoin="round"/>
<polyline points="420.8,129 420.8,137.8 385,174.2" fill="none" stroke="rgb(128,0,0)" stroke-width="1.8" stroke-linecap="round" stroke-linejoin="round"/>
<polyline points="413.2,124 417.9,124.6 421.2,128.4" fill="none" stroke="rgb(128,0,0)" stroke-width="1.8" stroke-linecap="round" stroke-linejoin="round"/>
<polyline points="493.8,124 493.8,181.7" fill="none" stroke="rgb(128,0,0)" stroke-width="1.8" stroke-linecap="round" stroke-linejoin="round"/>
<polyline points="506.3,124 506.3,181.7" fill="none" stroke="rgb(128,0,0)" stroke-width="1.8" stroke-linecap="round" stroke-linejoin="round"/>
<polyline points="512,124 512,181.7" fill="none" stroke="rgb(128,0,0)" stroke-width="1.8" stroke-linecap="round" stroke-linejoin="round"/>
<polyline points="527,124 527,125.9 551.5,150.6" fill="none" stroke="rgb(128,0,0)" stroke-width="1.8" stroke-linecap="round" stroke-linejoin="round"/>
<polyline points="554.6,124 554.6,155.4 530.2,181.7" fill="none" stroke="rgb(128,0,0)" stroke-width="1.8" stroke-linecap="round" stroke-linejoin="round"/>
<polyline points="551.5,151 520.8,181.7" fill="none" stroke="rgb(128,0,0)" stroke-width="1.8" stroke-linecap="round" stroke-linejoin="round"/>
<polyline points="557.8,124 557.8,181.7" fill="none" stroke="rgb(128,0,0)" stroke-width="3" stroke-linecap="round" stroke-linejoin="round"/>
<polyline points="557.8,126.8 581,126.8" fill="none" stroke="rgb(128,0,0)" stroke-width="1.8" stroke-linecap="round" stroke-linejoin="round"/>
<polyline points="587.9,124.6 559,154.1" fill="none" stroke="rgb(128,0,0)" stroke-width="1.8" stroke-linecap="round" stroke-linejoin="round"/>
<polyline points="562.6,161.4 582.9,181.7" fill="none" stroke="rgb(128,0,0)" stroke-width="1.8" stroke-linecap="round" stroke-linejoin="round"/>
<polyline points="591.9,124 591.9,181.7" fill="none" stroke="rgb(128,0,0)" stroke-width="3.5" stroke-linecap="round" stroke-linejoin="round"/>
<polyline points="596.7,142.5 603,142.8" fill="none" stroke="rgb(128,0,0)" stroke-width="1.8" stroke-linecap="round" stroke-linejoin="round"/>
<polyline points="606.7,159.1 596.1,168.6 596.1,177.3" fill="none" stroke="rgb(128,0,0)" stroke-width="1.8" stroke-linecap="round" stroke-linejoin="round"/>
<polyline points="424.9,176 424.9,187.3" fill="none" stroke="rgb(128,0,0)" stroke-width="3.5" stroke-linecap="round" stroke-linejoin="round"/>
<polyline points="423.9,187.3 433.3,196.7" fill="none" stroke="rgb(128,0,0)" stroke-width="1.8" stroke-linecap="round" stroke-linejoin="round"/>
<polyline points="425.8,186.7 435.2,196.1" fill="none" stroke="rgb(128,0,0)" stroke-width="1.8" stroke-linecap="round" stroke-linejoin="round"/>
<polyline points="427.7,186.7 440.2,198.6 440.2,205.5" fill="none" stroke="rgb(128,0,0)" stroke-width="1.8" stroke-linecap="round" stroke-linejoin="round"/>
<polyline points="422.7,192.3 396.9,192.3 395.7,194.2 395.7,207.4 398.8,209.3" fill="none" stroke="rgb(128,0,0)" stroke-width="1.6" stroke-linecap="round" stroke-linejoin="round"/>
<polyline points="401.3,216.2 396.3,216.2 396.3,219.9 401.3,219.9" fill="none" stroke="rgb(128,0,0)" stroke-width="1.8" stroke-linecap="round" stroke-linejoin="round"/>
<polyline points="450.9,176 450.9,226.2" fill="none" stroke="rgb(128,0,0)" stroke-width="1.8" stroke-linecap="round" stroke-linejoin="round"/>
<polyline points="454.7,207.4 480.4,233.7" fill="none" stroke="rgb(128,0,0)" stroke-width="1.8" stroke-linecap="round" stroke-linejoin="round"/>
<polyline points="489.2,176 489.2,233.7" fill="none" stroke="rgb(128,0,0)" stroke-width="1.8" stroke-linecap="round" stroke-linejoin="round"/>
<polyline points="494,176 494,233.7" fill="none" stroke="rgb(128,0,0)" stroke-width="1.8" stroke-linecap="round" stroke-linejoin="round"/>
<polyline points="385.6,192.3 385.6,233.7" fill="none" stroke="rgb(128,0,0)" stroke-width="1.8" stroke-linecap="round" stroke-linejoin="round"/>
<polyline points="387.5,233.7 387.5,227.5 398.8,227.5" fill="none" stroke="rgb(128,0,0)" stroke-width="1.8" stroke-linecap="round" stroke-linejoin="round"/>
<polyline points="493.8,176 493.8,233.7" fill="none" stroke="rgb(128,0,0)" stroke-width="1.8" stroke-linecap="round" stroke-linejoin="round"/>
<polyline points="506.3,176 506.3,233.7" fill="none" stroke="rgb(128,0,0)" stroke-width="1.8" stroke-linecap="round" stroke-linejoin="round"/>
<polyline points="512,176 512,206.4" fill="none" stroke="rgb(128,0,0)" stroke-width="1.8" stroke-linecap="round" stroke-linejoin="round"/>
<polyline points="523.9,176 518.9,181.6 518.9,211.8 529.5,219.9 529.5,233.7" fill="none" stroke="rgb(128,0,0)" stroke-width="1.8" stroke-linecap="round" stroke-linejoin="round"/>
<polyline points="535.2,176 523.9,186 523.9,206.1" fill="none" stroke="rgb(128,0,0)" stroke-width="1.8" stroke-linecap="round" stroke-linejoin="round"/>
<polyline points="557.8,176 557.8,201.1" fill="none" stroke="rgb(128,0,0)" stroke-width="3" stroke-linecap="round" stroke-linejoin="round"/>
<polyline points="558.4,206.4 554,202.4 554,233.7" fill="none" stroke="rgb(128,0,0)" stroke-width="1.8" stroke-linecap="round" stroke-linejoin="round"/>
<polyline points="558.4,206.4 562.8,211.8 562.8,233.7" fill="none" stroke="rgb(128,0,0)" stroke-width="1.8" stroke-linecap="round" stroke-linejoin="round"/>
<polyline points="535.2,194.8 535.2,206.4 540.2,211.1 540.2,233.7" fill="none" stroke="rgb(128,0,0)" stroke-width="1.8" stroke-linecap="round" stroke-linejoin="round"/>
<polyline points="547.1,194.8 547.1,206.4" fill="none" stroke="rgb(128,0,0)" stroke-width="1.8" stroke-linecap="round" stroke-linejoin="round"/>
<polyline points="575.4,211.1 575.4,228.7" fill="none" stroke="rgb(128,0,0)" stroke-width="1.8" stroke-linecap="round" stroke-linejoin="round"/>
<polyline points="592.9,176 592.9,206.4" fill="none" stroke="rgb(128,0,0)" stroke-width="2.5" stroke-linecap="round" stroke-linejoin="round"/>
<polyline points="576.6,176 589.2,188.6" fill="none" stroke="rgb(128,0,0)" stroke-width="1.8" stroke-linecap="round" stroke-linejoin="round"/>
<polyline points="596.7,188.6 581.6,197.3 581,206.4" fill="none" stroke="rgb(128,0,0)" stroke-width="1.8" stroke-linecap="round" stroke-linejoin="round"/>
<polyline points="604.2,206.4 582.9,227.5" fill="none" stroke="rgb(128,0,0)" stroke-width="1.8" stroke-linecap="round" stroke-linejoin="round"/>
<polyline points="501,206.4 517.6,231.2" fill="none" stroke="rgb(128,0,0)" stroke-width="1.8" stroke-linecap="round" stroke-linejoin="round"/>
<polyline points="610.5,223.7 601.7,233.7" fill="none" stroke="rgb(128,0,0)" stroke-width="1.8" stroke-linecap="round" stroke-linejoin="round"/>
<polyline points="537.7,187.5 550.5,187.5 550.5,195.5 537.7,195.5 537.7,187.5" fill="none" stroke="rgb(128,0,0)" stroke-width="0.9" stroke-linecap="round" stroke-linejoin="round"/>
<polyline points="460.7,235.5 460.7,278.2" fill="none" stroke="rgb(128,0,0)" stroke-width="3.5" stroke-linecap="round" stroke-linejoin="round"/>
<polyline points="436.5,234.3 436.5,245.6 417.9,264.4 417.9,280.7 422.7,285.7" fill="none" stroke="rgb(128,0,0)" stroke-width="1.8" stroke-linecap="round" stroke-linejoin="round"/>
<polyline points="437.7,236.8 457.8,236.8" fill="none" stroke="rgb(128,0,0)" stroke-width="2" stroke-linecap="round" stroke-linejoin="round"/>
<polyline points="457.2,242.8 433.3,265 438.3,269.4" fill="none" stroke="rgb(128,0,0)" stroke-width="1.8" stroke-linecap="round" stroke-linejoin="round"/>
<polyline points="397.6,233 397.6,246.8" fill="none" stroke="rgb(128,0,0)" stroke-width="1.8" stroke-linecap="round" stroke-linejoin="round"/>
<polyline points="388.8,228 388.8,244.3" fill="none" stroke="rgb(128,0,0)" stroke-width="1.8" stroke-linecap="round" stroke-linejoin="round"/>
<polyline points="428.9,241.8 428.9,254.4" fill="none" stroke="rgb(128,0,0)" stroke-width="1.8" stroke-linecap="round" stroke-linejoin="round"/>
<polyline points="432.1,240.6 432.1,253.1" fill="none" stroke="rgb(128,0,0)" stroke-width="1.8" stroke-linecap="round" stroke-linejoin="round"/>
<polyline points="410.7,240.6 410.7,253.1" fill="none" stroke="rgb(128,0,0)" stroke-width="1.8" stroke-linecap="round" stroke-linejoin="round"/>
<polyline points="482.9,228 482.9,244.3 498,259.1" fill="none" stroke="rgb(128,0,0)" stroke-width="1.8" stroke-linecap="round" stroke-linejoin="round"/>
<polyline points="501.5,241.6 501.5,285.7" fill="none" stroke="rgb(128,0,0)" stroke-width="1.8" stroke-linecap="round" stroke-linejoin="round"/>
<polyline points="494.2,228 494.2,235.5 489.2,241.6" fill="none" stroke="rgb(128,0,0)" stroke-width="1.8" stroke-linecap="round" stroke-linejoin="round"/>
<polyline points="471.6,278.2 478.5,285.7" fill="none" stroke="rgb(128,0,0)" stroke-width="1.8" stroke-linecap="round" stroke-linejoin="round"/>
<polyline points="449.6,280.7 460.3,279.5" fill="none" stroke="rgb(128,0,0)" stroke-width="1.8" stroke-linecap="round" stroke-linejoin="round"/>
<polyline points="461.6,270.7 470.4,270.7 470.4,283.2 461.6,283.2 461.6,270.7" fill="none" stroke="rgb(128,0,0)" stroke-width="0.9" stroke-linecap="round" stroke-linejoin="round"/>
<polyline points="493.8,228 493.8,235.5 490,240.6" fill="none" stroke="rgb(128,0,0)" stroke-width="1.8" stroke-linecap="round" stroke-linejoin="round"/>
<polyline points="501,241.6 501,285.7" fill="none" stroke="rgb(128,0,0)" stroke-width="1.8" stroke-linecap="round" stroke-linejoin="round"/>
<polyline points="506.3,228 506.3,285.7" fill="none" stroke="rgb(128,0,0)" stroke-width="1.8" stroke-linecap="round" stroke-linejoin="round"/>
<polyline points="490,250.6 498.2,259.1" fill="none" stroke="rgb(128,0,0)" stroke-width="1.8" stroke-linecap="round" stroke-linejoin="round"/>
<polyline points="517,228 517,244.3 527,252.5" fill="none" stroke="rgb(128,0,0)" stroke-width="2" stroke-linecap="round" stroke-linejoin="round"/>
<polyline points="527.7,252.5 527.7,285.7" fill="none" stroke="rgb(128,0,0)" stroke-width="3" stroke-linecap="round" stroke-linejoin="round"/>
<polyline points="523.9,241.6 518.9,235.5" fill="none" stroke="rgb(128,0,0)" stroke-width="1.8" stroke-linecap="round" stroke-linejoin="round"/>
<polyline points="529.5,228 529.5,253.1" fill="none" stroke="rgb(128,0,0)" stroke-width="1.8" stroke-linecap="round" stroke-linejoin="round"/>
<polyline points="537.1,241.6 537.1,285.7" fill="none" stroke="rgb(128,0,0)" stroke-width="2" stroke-linecap="round" stroke-linejoin="round"/>
<polyline points="540.2,228 540.2,285.7" fill="none" stroke="rgb(128,0,0)" stroke-width="1.8" stroke-linecap="round" stroke-linejoin="round"/>
<polyline points="547.1,241.6 542.7,245.6 542.7,285.7" fill="none" stroke="rgb(128,0,0)" stroke-width="1.8" stroke-linecap="round" stroke-linejoin="round"/>
<polyline points="554,228 554,235.5 558.4,241.6" fill="none" stroke="rgb(128,0,0)" stroke-width="1.8" stroke-linecap="round" stroke-linejoin="round"/>
<polyline points="562.8,228 562.8,285.7" fill="none" stroke="rgb(128,0,0)" stroke-width="1.8" stroke-linecap="round" stroke-linejoin="round"/>
<polyline points="575.4,228 575.4,285.7" fill="none" stroke="rgb(128,0,0)" stroke-width="1.8" stroke-linecap="round" stroke-linejoin="round"/>
<polyline points="581.4,241.6 577.9,244.9 577.9,274.4" fill="none" stroke="rgb(128,0,0)" stroke-width="1.8" stroke-linecap="round" stroke-linejoin="round"/>
<polyline points="580.4,229.3 589.2,238 589.2,246.8 591,248.1 604.2,248.1 604.2,241.6" fill="none" stroke="rgb(128,0,0)" stroke-width="1.8" stroke-linecap="round" stroke-linejoin="round"/>
<polyline points="608,228 592.9,241.6" fill="none" stroke="rgb(128,0,0)" stroke-width="1.8" stroke-linecap="round" stroke-linejoin="round"/>
<polyline points="581.6,255 599.2,271.9" fill="none" stroke="rgb(128,0,0)" stroke-width="1.8" stroke-linecap="round" stroke-linejoin="round"/>
<polyline points="610.5,261.9 600.5,271.9" fill="none" stroke="rgb(128,0,0)" stroke-width="1.8" stroke-linecap="round" stroke-linejoin="round"/>
<polyline points="603,278.2 610.5,278.2" fill="none" stroke="rgb(128,0,0)" stroke-width="1.8" stroke-linecap="round" stroke-linejoin="round"/>
<polyline points="599.2,280.7 594.2,285.7" fill="none" stroke="rgb(128,0,0)" stroke-width="1.8" stroke-linecap="round" stroke-linejoin="round"/>
<polyline points="413.9,280 413.9,288.8 437.7,288.8 472.9,325.2 482.9,335.9 499.2,335.9" fill="none" stroke="rgb(128,0,0)" stroke-width="1.8" stroke-linecap="round" stroke-linejoin="round"/>
<polyline points="472.9,280 493.6,302.3" fill="none" stroke="rgb(128,0,0)" stroke-width="1.8" stroke-linecap="round" stroke-linejoin="round"/>
<polyline points="501.7,280 501.7,298.2 472.9,325.8 462.8,337.7" fill="none" stroke="rgb(128,0,0)" stroke-width="1.8" stroke-linecap="round" stroke-linejoin="round"/>
<polyline points="499.9,307 499.9,335.2" fill="none" stroke="rgb(128,0,0)" stroke-width="1.8" stroke-linecap="round" stroke-linejoin="round"/>
<polyline points="471.6,326.4 471.6,337.7" fill="none" stroke="rgb(128,0,0)" stroke-width="1.8" stroke-linecap="round" stroke-linejoin="round"/>
<polyline points="410.7,280 410.7,308.2" fill="none" stroke="rgb(128,0,0)" stroke-width="1.8" stroke-linecap="round" stroke-linejoin="round"/>
<polyline points="385.6,280 385.6,337.7" fill="none" stroke="rgb(128,0,0)" stroke-width="1.8" stroke-linecap="round" stroke-linejoin="round"/>
<polyline points="388.8,280 403.2,293.6" fill="none" stroke="rgb(128,0,0)" stroke-width="1.8" stroke-linecap="round" stroke-linejoin="round"/>
<polyline points="403.2,317 403.2,327.7 410.7,335.9" fill="none" stroke="rgb(128,0,0)" stroke-width="1.8" stroke-linecap="round" stroke-linejoin="round"/>
<polyline points="415.1,317.7 415.1,322.7" fill="none" stroke="rgb(128,0,0)" stroke-width="1.8" stroke-linecap="round" stroke-linejoin="round"/>
<polyline points="403.2,308.9 417.6,308.9 417.6,317 403.2,317 403.2,308.9" fill="none" stroke="rgb(128,0,0)" stroke-width="0.9" stroke-linecap="round" stroke-linejoin="round"/>
<polyline points="501,280 501,298.8 490,309.5" fill="none" stroke="rgb(128,0,0)" stroke-width="1.8" stroke-linecap="round" stroke-linejoin="round"/>
<polyline points="490,298.2 499.4,307 499.4,337.7" fill="none" stroke="rgb(128,0,0)" stroke-width="1.8" stroke-linecap="round" stroke-linejoin="round"/>
<polyline points="506.3,280 506.3,337.7" fill="none" stroke="rgb(128,0,0)" stroke-width="1.8" stroke-linecap="round" stroke-linejoin="round"/>
<polyline points="527.7,280 527.7,337.7" fill="none" stroke="rgb(128,0,0)" stroke-width="3" stroke-linecap="round" stroke-linejoin="round"/>
<polyline points="537.1,280 537.1,321.4" fill="none" stroke="rgb(128,0,0)" stroke-width="2" stroke-linecap="round" stroke-linejoin="round"/>
<polyline points="540.2,280 540.2,337.7" fill="none" stroke="rgb(128,0,0)" stroke-width="1.8" stroke-linecap="round" stroke-linejoin="round"/>
<polyline points="542.7,280 542.7,337.7" fill="none" stroke="rgb(128,0,0)" stroke-width="1.8" stroke-linecap="round" stroke-linejoin="round"/>
<polyline points="562.8,280 562.8,317.7" fill="none" stroke="rgb(128,0,0)" stroke-width="1.8" stroke-linecap="round" stroke-linejoin="round"/>
<polyline points="575.4,280 575.4,337.7" fill="none" stroke="rgb(128,0,0)" stroke-width="1.8" stroke-linecap="round" stroke-linejoin="round"/>
<polyline points="592.9,337.7 592.9,286.3 597.9,281.3" fill="none" stroke="rgb(128,0,0)" stroke-width="1.8" stroke-linecap="round" stroke-linejoin="round"/>
<polyline points="596.7,337.7 596.7,291.3 599.2,290" fill="none" stroke="rgb(128,0,0)" stroke-width="1.8" stroke-linecap="round" stroke-linejoin="round"/>
<polyline points="603.6,288.2 610.5,288.2" fill="none" stroke="rgb(128,0,0)" stroke-width="1.8" stroke-linecap="round" stroke-linejoin="round"/>
<polyline points="558.4,310.1 558.4,317.7" fill="none" stroke="rgb(128,0,0)" stroke-width="1.8" stroke-linecap="round" stroke-linejoin="round"/>
<polyline points="547.1,301.3 560.9,301.3 560.9,310.1 547.1,310.1 547.1,301.3" fill="none" stroke="rgb(128,0,0)" stroke-width="0.9" stroke-linecap="round" stroke-linejoin="round"/>
<polyline points="388.1,346.2 455.3,345.8 470.4,332" fill="none" stroke="rgb(128,0,0)" stroke-width="1.8" stroke-linecap="round" stroke-linejoin="round"/>
<polyline points="471.6,332 471.6,370.9" fill="none" stroke="rgb(128,0,0)" stroke-width="1.8" stroke-linecap="round" stroke-linejoin="round"/>
<polyline points="472.9,369.7 472.9,389.7" fill="none" stroke="rgb(128,0,0)" stroke-width="1.8" stroke-linecap="round" stroke-linejoin="round"/>
<polyline points="388.1,372.2 470.4,372.2" fill="none" stroke="rgb(128,0,0)" stroke-width="1.8" stroke-linecap="round" stroke-linejoin="round"/>
<polyline points="405.1,387.2 459.1,387 470.4,375.7" fill="none" stroke="rgb(128,0,0)" stroke-width="1.8" stroke-linecap="round" stroke-linejoin="round"/>
<polyline points="476.6,372.4 494.2,389.7" fill="none" stroke="rgb(128,0,0)" stroke-width="1.8" stroke-linecap="round" stroke-linejoin="round"/>
<polyline points="505.5,382.2 496.7,389.7" fill="none" stroke="rgb(128,0,0)" stroke-width="1.8" stroke-linecap="round" stroke-linejoin="round"/>
<polyline points="500.5,389.7 505.5,384.7" fill="none" stroke="rgb(128,0,0)" stroke-width="1.8" stroke-linecap="round" stroke-linejoin="round"/>
<polyline points="477.3,332 484.2,337.6" fill="none" stroke="rgb(128,0,0)" stroke-width="1.8" stroke-linecap="round" stroke-linejoin="round"/>
<polyline points="499.9,338.3 499.9,365.9" fill="none" stroke="rgb(128,0,0)" stroke-width="2" stroke-linecap="round" stroke-linejoin="round"/>
<polyline points="495.5,344.6 495.5,350.8" fill="none" stroke="rgb(128,0,0)" stroke-width="1.8" stroke-linecap="round" stroke-linejoin="round"/>
<polyline points="385.6,332 385.6,373.4" fill="none" stroke="rgb(128,0,0)" stroke-width="1.8" stroke-linecap="round" stroke-linejoin="round"/>
<polyline points="388.8,376.2 393.2,381" fill="none" stroke="rgb(128,0,0)" stroke-width="1.8" stroke-linecap="round" stroke-linejoin="round"/>
<polyline points="484.2,337 499.2,337 499.2,344.6 484.2,344.6 484.2,337" fill="none" stroke="rgb(128,0,0)" stroke-width="0.9" stroke-linecap="round" stroke-linejoin="round"/>
<polyline points="506.3,332 506.3,382.2 497.5,389.7" fill="none" stroke="rgb(128,0,0)" stroke-width="1.8" stroke-linecap="round" stroke-linejoin="round"/>
<polyline points="527.7,332 527.7,389.7" fill="none" stroke="rgb(128,0,0)" stroke-width="3" stroke-linecap="round" stroke-linejoin="round"/>
<polyline points="542.7,332 542.7,389.7" fill="none" stroke="rgb(128,0,0)" stroke-width="1.8" stroke-linecap="round" stroke-linejoin="round"/>
<polyline points="540.2,332 540.2,335.1" fill="none" stroke="rgb(128,0,0)" stroke-width="1.8" stroke-linecap="round" stroke-linejoin="round"/>
<polyline points="547.1,389.7 547.1,355.2 562.8,340.2 562.8,332" fill="none" stroke="rgb(128,0,0)" stroke-width="1.8" stroke-linecap="round" stroke-linejoin="round"/>
<polyline points="575.4,332 575.4,350.8 550.3,375.3" fill="none" stroke="rgb(128,0,0)" stroke-width="1.8" stroke-linecap="round" stroke-linejoin="round"/>
<polyline points="575.4,350.8 588.5,364.6" fill="none" stroke="rgb(128,0,0)" stroke-width="1.8" stroke-linecap="round" stroke-linejoin="round"/>
<polyline points="592.9,332 592.9,363.4" fill="none" stroke="rgb(128,0,0)" stroke-width="1.8" stroke-linecap="round" stroke-linejoin="round"/>
<polyline points="596.7,332 596.7,372.2" fill="none" stroke="rgb(128,0,0)" stroke-width="1.8" stroke-linecap="round" stroke-linejoin="round"/>
<polyline points="506.3,378.2 585.4,378.2" fill="none" stroke="rgb(128,0,0)" stroke-width="1.8" stroke-linecap="round" stroke-linejoin="round"/>
<polyline points="550.3,382.2 584.1,382.2" fill="none" stroke="rgb(128,0,0)" stroke-width="1.8" stroke-linecap="round" stroke-linejoin="round"/>
<polyline points="581.6,389.7 581.6,374.7 589.2,367.8" fill="none" stroke="rgb(128,0,0)" stroke-width="1.8" stroke-linecap="round" stroke-linejoin="round"/>
<polyline points="375.9,213.6 386.9,213.6 386.9,218.6 375.9,218.6 375.9,213.6" fill="none" stroke="rgb(128,0,0)" stroke-width="0.9" stroke-linecap="round" stroke-linejoin="round"/>
<polyline points="375.9,220.6 386.9,220.6 386.9,225.6 375.9,225.6 375.9,220.6" fill="none" stroke="rgb(128,0,0)" stroke-width="0.9" stroke-linecap="round" stroke-linejoin="round"/>
<polyline points="373.2,273.9 384.2,273.9 384.2,278.9 373.2,278.9 373.2,273.9" fill="none" stroke="rgb(128,0,0)" stroke-width="0.9" stroke-linecap="round" stroke-linejoin="round"/>
<polyline points="394.8,273.9 405.8,273.9 405.8,278.9 394.8,278.9 394.8,273.9" fill="none" stroke="rgb(128,0,0)" stroke-width="0.9" stroke-linecap="round" stroke-linejoin="round"/>
<polyline points="450.3,224.6 460.3,224.6 460.3,230.6 450.3,230.6 450.3,224.6" fill="none" stroke="rgb(128,0,0)" stroke-width="0.9" stroke-linecap="round" stroke-linejoin="round"/>
<polyline points="473,390.1 465,398.5" fill="none" stroke="rgb(128,0,0)" stroke-width="1.8" stroke-linecap="round" stroke-linejoin="round"/>
<polyline points="489.3,385.1 501.8,403.5" fill="none" stroke="rgb(128,0,0)" stroke-width="1.8" stroke-linecap="round" stroke-linejoin="round"/>
<polyline points="502.7,382.6 481.8,398.5" fill="none" stroke="rgb(128,0,0)" stroke-width="1.8" stroke-linecap="round" stroke-linejoin="round"/>
<polyline points="504.8,384.4 488,398" fill="none" stroke="rgb(128,0,0)" stroke-width="1.8" stroke-linecap="round" stroke-linejoin="round"/>
<polyline points="506,370 506,385.5 504.4,384.6" fill="none" stroke="rgb(128,0,0)" stroke-width="1.8" stroke-linecap="round" stroke-linejoin="round"/>
<polyline points="506,377.9 523.6,377.9" fill="none" stroke="rgb(128,0,0)" stroke-width="1.8" stroke-linecap="round" stroke-linejoin="round"/>
<polyline points="346.9,151.5 386.7,112.1" fill="none" stroke="rgb(128,0,0)" stroke-width="1.8" stroke-linecap="round" stroke-linejoin="round"/>
<polyline points="352.8,150.3 425.1,77.9 425.1,72.1" fill="none" stroke="rgb(128,0,0)" stroke-width="1.8" stroke-linecap="round" stroke-linejoin="round"/>
<polyline points="358.2,149.6 407.8,100" fill="none" stroke="rgb(128,0,0)" stroke-width="1.8" stroke-linecap="round" stroke-linejoin="round"/>
<polyline points="363.9,148.7 436.4,76.2 436.4,72.1" fill="none" stroke="rgb(128,0,0)" stroke-width="1.8" stroke-linecap="round" stroke-linejoin="round"/>
<polyline points="484.6,60 484.6,71.3" fill="none" stroke="rgb(128,0,0)" stroke-width="1.8" stroke-linecap="round" stroke-linejoin="round"/>
<polyline points="473.3,50 473.3,68.8" fill="none" stroke="rgb(128,0,0)" stroke-width="1.8" stroke-linecap="round" stroke-linejoin="round"/>
<polyline points="375.2,259 375.2,276" fill="none" stroke="rgb(128,0,0)" stroke-width="1.8" stroke-linecap="round" stroke-linejoin="round"/>
<polyline points="397.2,259 397.2,276" fill="none" stroke="rgb(128,0,0)" stroke-width="1.8" stroke-linecap="round" stroke-linejoin="round"/>
<polyline points="388.8,259 388.8,276" fill="none" stroke="rgb(128,0,0)" stroke-width="1.8" stroke-linecap="round" stroke-linejoin="round"/>
<polyline points="385,240 385,246" fill="none" stroke="rgb(128,0,0)" stroke-width="1.8" stroke-linecap="round" stroke-linejoin="round"/>
<polyline points="389,240 389,246" fill="none" stroke="rgb(128,0,0)" stroke-width="1.8" stroke-linecap="round" stroke-linejoin="round"/>
<g fill="rgb(128,0,0)">
<rect x="390.9" y="60.2" width="7" height="7.4"/>
<rect x="390.9" y="74.8" width="7" height="7.4"/>
<rect x="406" y="58" width="7" height="7.4"/>
<rect x="406" y="72.6" width="7" height="7.4"/>
<rect x="417" y="46.3" width="7" height="7.4"/>
<rect x="417" y="60.9" width="7" height="7.4"/>
<rect x="434.8" y="40.4" width="7" height="7.4"/>
<rect x="434.8" y="55" width="7" height="7.4"/>
<rect x="446.1" y="35" width="7" height="7.4"/>
<rect x="446.1" y="49.6" width="7" height="7.4"/>
<rect x="464" y="33.7" width="7" height="7.4"/>
<rect x="464" y="48.3" width="7" height="7.4"/>
<rect x="481.9" y="32.6" width="7" height="7.4"/>
<rect x="481.9" y="47.2" width="7" height="7.4"/>
<rect x="500.7" y="32.6" width="7" height="7.4"/>
<rect x="500.7" y="47.2" width="7" height="7.4"/>
<rect x="474.8" y="65.7" width="7" height="7.4"/>
<rect x="474.8" y="80.3" width="7" height="7.4"/>
<rect x="519.1" y="33.9" width="7" height="7.4"/>
<rect x="519.1" y="48.5" width="7" height="7.4"/>
<rect x="532.9" y="38.5" width="7" height="7.4"/>
<rect x="532.9" y="53.1" width="7" height="7.4"/>
<rect x="550.9" y="42.9" width="7" height="7.4"/>
<rect x="550.9" y="57.5" width="7" height="7.4"/>
<rect x="565.8" y="49.4" width="7" height="7.4"/>
<rect x="565.8" y="64" width="7" height="7.4"/>
<rect x="578.1" y="58" width="7" height="7.4"/>
<rect x="578.1" y="72.6" width="7" height="7.4"/>
<rect x="596" y="63" width="7" height="7.4"/>
<rect x="596" y="77.6" width="7" height="7.4"/>
<rect x="607.2" y="75.4" width="7" height="7.4"/>
<rect x="607.2" y="90" width="7" height="7.4"/>
<rect x="618.5" y="86.1" width="7" height="7.4"/>
<rect x="618.5" y="100.7" width="7" height="7.4"/>
<rect x="632.9" y="100.5" width="7" height="7.4"/>
<rect x="632.9" y="115.1" width="7" height="7.4"/>
<rect x="645.5" y="116.9" width="7" height="7.4"/>
<rect x="645.5" y="131.5" width="7" height="7.4"/>
<rect x="656.1" y="135" width="7" height="7.4"/>
<rect x="656.1" y="149.6" width="7" height="7.4"/>
<rect x="666.8" y="158.2" width="7" height="7.4"/>
<rect x="666.8" y="172.8" width="7" height="7.4"/>
<rect x="605.9" y="136.6" width="7" height="7.4"/>
<rect x="605.9" y="151.2" width="7" height="7.4"/>
<rect x="675" y="185.1" width="7" height="7.4"/>
<rect x="675" y="199.7" width="7" height="7.4"/>
<rect x="681.9" y="212.7" width="7" height="7.4"/>
<rect x="681.9" y="227.3" width="7" height="7.4"/>
<rect x="624.1" y="212.7" width="7" height="7.4"/>
<rect x="624.1" y="227.3" width="7" height="7.4"/>
<rect x="678.1" y="240.2" width="7" height="7.4"/>
<rect x="678.1" y="254.8" width="7" height="7.4"/>
<rect x="670.6" y="267.8" width="7" height="7.4"/>
<rect x="670.6" y="282.4" width="7" height="7.4"/>
<rect x="595.9" y="269.7" width="7" height="7.4"/>
<rect x="595.9" y="284.3" width="7" height="7.4"/>
<rect x="661.8" y="291.3" width="7" height="7.4"/>
<rect x="661.8" y="305.9" width="7" height="7.4"/>
<rect x="651.1" y="311.1" width="7" height="7.4"/>
<rect x="651.1" y="325.7" width="7" height="7.4"/>
<rect x="639.8" y="325.5" width="7" height="7.4"/>
<rect x="639.8" y="340.1" width="7" height="7.4"/>
<rect x="627.9" y="343.6" width="7" height="7.4"/>
<rect x="627.9" y="358.2" width="7" height="7.4"/>
<rect x="612.8" y="357.2" width="7" height="7.4"/>
<rect x="612.8" y="371.8" width="7" height="7.4"/>
<rect x="597.8" y="367.4" width="7" height="7.4"/>
<rect x="597.8" y="382" width="7" height="7.4"/>
<rect x="584.4" y="374.9" width="7" height="7.4"/>
<rect x="584.4" y="389.5" width="7" height="7.4"/>
<rect x="566.8" y="384.9" width="7" height="7.4"/>
<rect x="566.8" y="399.5" width="7" height="7.4"/>
<rect x="554.9" y="390.6" width="7" height="7.4"/>
<rect x="554.9" y="405.2" width="7" height="7.4"/>
<rect x="544" y="396.2" width="7" height="7.4"/>
<rect x="544" y="410.8" width="7" height="7.4"/>
<rect x="531.7" y="402.1" width="7" height="7.4"/>
<rect x="531.7" y="416.7" width="7" height="7.4"/>
<rect x="514.7" y="402.5" width="7" height="7.4"/>
<rect x="514.7" y="417.1" width="7" height="7.4"/>
<rect x="495" y="405.6" width="7" height="7.4"/>
<rect x="495" y="420.2" width="7" height="7.4"/>
<rect x="479.2" y="405.4" width="7" height="7.4"/>
<rect x="479.2" y="420" width="7" height="7.4"/>
<rect x="468.7" y="402.5" width="7" height="7.4"/>
<rect x="468.7" y="417.1" width="7" height="7.4"/>
<rect x="457.8" y="402.5" width="7" height="7.4"/>
<rect x="457.8" y="417.1" width="7" height="7.4"/>
<rect x="442.8" y="401.6" width="7" height="7.4"/>
<rect x="442.8" y="416.2" width="7" height="7.4"/>
<rect x="422.7" y="396" width="7" height="7.4"/>
<rect x="422.7" y="410.6" width="7" height="7.4"/>
<rect x="407.9" y="389.1" width="7" height="7.4"/>
<rect x="407.9" y="403.7" width="7" height="7.4"/>
<rect x="391.8" y="379" width="7" height="7.4"/>
<rect x="391.8" y="393.6" width="7" height="7.4"/>
<rect x="372.9" y="369.3" width="7" height="7.4"/>
<rect x="372.9" y="383.9" width="7" height="7.4"/>
<rect x="355.6" y="353.4" width="7" height="7.4"/>
<rect x="355.6" y="368" width="7" height="7.4"/>
<rect x="338.9" y="339.6" width="7" height="7.4"/>
<rect x="338.9" y="354.2" width="7" height="7.4"/>
<rect x="323.6" y="319.2" width="7" height="7.4"/>
<rect x="323.6" y="333.8" width="7" height="7.4"/>
<rect x="309.8" y="298.5" width="7" height="7.4"/>
<rect x="309.8" y="313.1" width="7" height="7.4"/>
<rect x="301.6" y="273.4" width="7" height="7.4"/>
<rect x="301.6" y="288" width="7" height="7.4"/>
<rect x="360" y="275.9" width="7" height="7.4"/>
<rect x="360" y="290.5" width="7" height="7.4"/>
<rect x="294.7" y="245.2" width="7" height="7.4"/>
<rect x="294.7" y="259.8" width="7" height="7.4"/>
<rect x="290.9" y="218.3" width="7" height="7.4"/>
<rect x="290.9" y="232.9" width="7" height="7.4"/>
<rect x="342.7" y="224.5" width="7" height="7.4"/>
<rect x="342.7" y="239.1" width="7" height="7.4"/>
<rect x="297.8" y="193.2" width="7" height="7.4"/>
<rect x="297.8" y="207.8" width="7" height="7.4"/>
<rect x="305.1" y="169.4" width="7" height="7.4"/>
<rect x="305.1" y="184" width="7" height="7.4"/>
<rect x="314.8" y="145.6" width="7" height="7.4"/>
<rect x="314.8" y="160.2" width="7" height="7.4"/>
<rect x="324.8" y="127.4" width="7" height="7.4"/>
<rect x="324.8" y="142" width="7" height="7.4"/>
<rect x="355" y="147.5" width="7" height="7.4"/>
<rect x="355" y="162.1" width="7" height="7.4"/>
<rect x="335.5" y="111.2" width="7" height="7.4"/>
<rect x="335.5" y="125.8" width="7" height="7.4"/>
<rect x="346.8" y="94.3" width="7" height="7.4"/>
<rect x="346.8" y="108.9" width="7" height="7.4"/>
<rect x="359.7" y="81.1" width="7" height="7.4"/>
<rect x="359.7" y="95.7" width="7" height="7.4"/>
<rect x="374.4" y="69.8" width="7" height="7.4"/>
<rect x="374.4" y="84.4" width="7" height="7.4"/>
<rect x="411.6" y="103.7" width="7" height="7.4"/>
<rect x="411.6" y="118.3" width="7" height="7.4"/>
<rect x="548" y="93.9" width="7" height="7.4"/>
<rect x="548" y="108.5" width="7" height="7.4"/>
<rect x="411.6" y="321.7" width="7" height="7.4"/>
<rect x="411.6" y="336.3" width="7" height="7.4"/>
<rect x="555.3" y="316.4" width="7" height="7.4"/>
<rect x="555.3" y="331" width="7" height="7.4"/>
<rect x="492" y="350.5" width="7" height="7.4"/>
<rect x="492" y="365.1" width="7" height="7.4"/>
<rect x="407.1" y="196.1" width="5.3" height="6.3"/>
<rect x="407.1" y="234.4" width="5.3" height="5.8"/>
<rect x="414" y="196.1" width="5.4" height="6.3"/>
<rect x="414" y="234.4" width="5.4" height="5.8"/>
<rect x="421.3" y="196.1" width="3.7" height="6.3"/>
<rect x="421.3" y="234.4" width="3.7" height="5.8"/>
<rect x="425.5" y="196.1" width="6" height="6.3"/>
<rect x="425.5" y="234.4" width="6" height="5.8"/>
<rect x="432.7" y="196.1" width="2.1" height="6.3"/>
<rect x="432.7" y="234.4" width="2.1" height="5.8"/>
<rect x="398.7" y="204.6" width="6" height="2.7"/>
<rect x="436.7" y="204.6" width="6" height="2.7"/>
<rect x="398.7" y="208.5" width="6" height="4.3"/>
<rect x="436.7" y="208.5" width="6" height="4.3"/>
<rect x="398.7" y="214.7" width="6" height="5.5"/>
<rect x="436.7" y="214.7" width="6" height="5.5"/>
<rect x="398.7" y="222.3" width="6" height="3.5"/>
<rect x="436.7" y="222.3" width="6" height="3.5"/>
<rect x="398.7" y="227" width="6" height="4.4"/>
<rect x="436.7" y="227" width="6" height="4.4"/>
<rect x="493.5" y="66.5" width="3" height="5"/>
<rect x="501.7" y="66.5" width="3" height="5"/>
<rect x="371.8" y="285.3" width="3.5" height="5"/>
<rect x="379.2" y="285.3" width="3.5" height="5"/>
<rect x="343.6" y="212.2" width="3.5" height="5"/>
<rect x="351.1" y="212.2" width="3.5" height="5"/>
<rect x="367.6" y="147.2" width="3.5" height="5"/>
<rect x="375.1" y="147.2" width="3.5" height="5"/>
<rect x="424.6" y="105.9" width="3.5" height="5"/>
<rect x="432.9" y="105.9" width="3.5" height="5"/>
<rect x="538.5" y="189.1" width="3.5" height="5"/>
<rect x="546.2" y="189.1" width="3.5" height="5"/>
<rect x="529.7" y="185.3" width="4" height="4"/>
<rect x="529.7" y="192.2" width="4" height="4"/>
<rect x="464" y="271.4" width="4" height="3.5"/>
<rect x="464" y="278.9" width="4" height="3.5"/>
<rect x="403.4" y="310.1" width="4.5" height="5.5"/>
<rect x="412.9" y="310.1" width="4.5" height="5.5"/>
<rect x="548.3" y="303.9" width="4" height="5"/>
<rect x="556" y="303.9" width="4" height="5"/>
<rect x="485.3" y="338.5" width="4" height="5"/>
<rect x="493.5" y="338.5" width="4" height="5"/>
<rect x="376.9" y="214.1" width="3.5" height="4"/>
<rect x="382.4" y="214.1" width="3.5" height="4"/>
<rect x="376.9" y="221.1" width="3.5" height="4"/>
<rect x="382.4" y="221.1" width="3.5" height="4"/>
<rect x="374.2" y="274.4" width="3.5" height="4"/>
<rect x="379.7" y="274.4" width="3.5" height="4"/>
<rect x="395.8" y="274.4" width="3.5" height="4"/>
<rect x="401.3" y="274.4" width="3.5" height="4"/>
<rect x="451.1" y="225.6" width="3.5" height="4"/>
<rect x="456.1" y="225.6" width="3.5" height="4"/>
</g>
</g>
<g stroke="rgb(150,140,10)" stroke-opacity="0.85" stroke-width="0.9" fill="none">
<polyline points="383.5,222 401.5,220"/>
<polyline points="441,215 455,226.5"/>
<polyline points="530,190 515,235"/>
<polyline points="457,227.5 453.7,266"/>
<polyline points="385,276 405,275"/>
<polyline points="515,235 517,228"/>
<polyline points="384,277 391,294"/>
</g>
<rect x="276" y="11" width="426" height="430" fill="none" stroke="rgb(0,0,128)" stroke-opacity="0.706" stroke-width="1.7" stroke-dasharray="4 2.04"/>
<rect x="282" y="17" width="414" height="419" fill="none" stroke="rgb(128,0,0)" stroke-opacity="0.706" stroke-width="1.7" stroke-dasharray="4 2.04"/>
<g opacity="0.706" fill="rgb(0,128,0)">
<path d="M435.1 50.1l1.4 -1.4l1.4 1.4l-1.4 1.4z"/>
<path d="M448.9 59.5l1.4 -1.4l1.4 1.4l-1.4 1.4z"/>
<path d="M469 58.3l1.4 -1.4l1.4 1.4l-1.4 1.4z"/>
<path d="M487.2 45.7l1.4 -1.4l1.4 1.4l-1.4 1.4z"/>
<path d="M492.2 51.4l1.4 -1.4l1.4 1.4l-1.4 1.4z"/>
<path d="M495.9 55.4l1.4 -1.4l1.4 1.4l-1.4 1.4z"/>
<path d="M495.9 59.5l1.4 -1.4l1.4 1.4l-1.4 1.4z"/>
<path d="M497.2 36.3l1.4 -1.4l1.4 1.4l-1.4 1.4z"/>
<path d="M470.8 69.6l1.4 -1.4l1.4 1.4l-1.4 1.4z"/>
<path d="M410 70.2l1.4 -1.4l1.4 1.4l-1.4 1.4z"/>
<path d="M497.4 36.3l1.4 -1.4l1.4 1.4l-1.4 1.4z"/>
<path d="M509.3 48.6l1.4 -1.4l1.4 1.4l-1.4 1.4z"/>
<path d="M491.7 51.4l1.4 -1.4l1.4 1.4l-1.4 1.4z"/>
<path d="M491.7 74.6l1.4 -1.4l1.4 1.4l-1.4 1.4z"/>
<path d="M531.3 75.2l1.4 -1.4l1.4 1.4l-1.4 1.4z"/>
<path d="M496.1 55.4l1.4 -1.4l1.4 1.4l-1.4 1.4z"/>
<path d="M496.1 59.5l1.4 -1.4l1.4 1.4l-1.4 1.4z"/>
<path d="M535 66.4l1.4 -1.4l1.4 1.4l-1.4 1.4z"/>
<path d="M624.4 95.2l1.4 -1.4l1.4 1.4l-1.4 1.4z"/>
<path d="M630 98.4l1.4 -1.4l1.4 1.4l-1.4 1.4z"/>
<path d="M612.4 106.1l1.4 -1.4l1.4 1.4l-1.4 1.4z"/>
<path d="M618.1 111.5l1.4 -1.4l1.4 1.4l-1.4 1.4z"/>
<path d="M594.9 142.6l1.4 -1.4l1.4 1.4l-1.4 1.4z"/>
<path d="M631.9 140.3l1.4 -1.4l1.4 1.4l-1.4 1.4z"/>
<path d="M629.1 149.5l1.4 -1.4l1.4 1.4l-1.4 1.4z"/>
<path d="M647.8 151.4l1.4 -1.4l1.4 1.4l-1.4 1.4z"/>
<path d="M649.5 164.8l1.4 -1.4l1.4 1.4l-1.4 1.4z"/>
<path d="M614.9 167.6l1.4 -1.4l1.4 1.4l-1.4 1.4z"/>
<path d="M594.9 177.7l1.4 -1.4l1.4 1.4l-1.4 1.4z"/>
<path d="M652.6 204.2l1.4 -1.4l1.4 1.4l-1.4 1.4z"/>
<path d="M619.3 231.2l1.4 -1.4l1.4 1.4l-1.4 1.4z"/>
<path d="M594.9 177.5l1.4 -1.4l1.4 1.4l-1.4 1.4z"/>
<path d="M619.3 231.5l1.4 -1.4l1.4 1.4l-1.4 1.4z"/>
<path d="M636.3 241.2l1.4 -1.4l1.4 1.4l-1.4 1.4z"/>
<path d="M653.9 249.3l1.4 -1.4l1.4 1.4l-1.4 1.4z"/>
<path d="M657.9 262.1l1.4 -1.4l1.4 1.4l-1.4 1.4z"/>
<path d="M640 265.3l1.4 -1.4l1.4 1.4l-1.4 1.4z"/>
<path d="M654.5 265.3l1.4 -1.4l1.4 1.4l-1.4 1.4z"/>
<path d="M652 268.2l1.4 -1.4l1.4 1.4l-1.4 1.4z"/>
<path d="M640 279.5l1.4 -1.4l1.4 1.4l-1.4 1.4z"/>
<path d="M640 280.6l1.4 -1.4l1.4 1.4l-1.4 1.4z"/>
<path d="M645.7 291.9l1.4 -1.4l1.4 1.4l-1.4 1.4z"/>
<path d="M658.2 305.7l1.4 -1.4l1.4 1.4l-1.4 1.4z"/>
<path d="M650.7 308.2l1.4 -1.4l1.4 1.4l-1.4 1.4z"/>
<path d="M659.5 315.8l1.4 -1.4l1.4 1.4l-1.4 1.4z"/>
<path d="M646.9 315.8l1.4 -1.4l1.4 1.4l-1.4 1.4z"/>
<path d="M651.3 320.4l1.4 -1.4l1.4 1.4l-1.4 1.4z"/>
<path d="M626.9 352.1l1.4 -1.4l1.4 1.4l-1.4 1.4z"/>
<path d="M621.2 358.4l1.4 -1.4l1.4 1.4l-1.4 1.4z"/>
<path d="M608 373.4l1.4 -1.4l1.4 1.4l-1.4 1.4z"/>
<path d="M599.9 375.9l1.4 -1.4l1.4 1.4l-1.4 1.4z"/>
<path d="M489.2 390.3l1.4 -1.4l1.4 1.4l-1.4 1.4z"/>
<path d="M493 398.4l1.4 -1.4l1.4 1.4l-1.4 1.4z"/>
<path d="M493 402.6l1.4 -1.4l1.4 1.4l-1.4 1.4z"/>
<path d="M493 414.1l1.4 -1.4l1.4 1.4l-1.4 1.4z"/>
<path d="M493 418.1l1.4 -1.4l1.4 1.4l-1.4 1.4z"/>
<path d="M522.5 399.7l1.4 -1.4l1.4 1.4l-1.4 1.4z"/>
<path d="M531.3 399.7l1.4 -1.4l1.4 1.4l-1.4 1.4z"/>
<path d="M523.1 418.1l1.4 -1.4l1.4 1.4l-1.4 1.4z"/>
<path d="M533.8 414.8l1.4 -1.4l1.4 1.4l-1.4 1.4z"/>
<path d="M539.4 405.1l1.4 -1.4l1.4 1.4l-1.4 1.4z"/>
<path d="M548.9 408.5l1.4 -1.4l1.4 1.4l-1.4 1.4z"/>
<path d="M552 414.1l1.4 -1.4l1.4 1.4l-1.4 1.4z"/>
<path d="M546.3 393.4l1.4 -1.4l1.4 1.4l-1.4 1.4z"/>
<path d="M391.1 388.4l1.4 -1.4l1.4 1.4l-1.4 1.4z"/>
<path d="M404.3 388.8l1.4 -1.4l1.4 1.4l-1.4 1.4z"/>
<path d="M388 396.6l1.4 -1.4l1.4 1.4l-1.4 1.4z"/>
<path d="M409.3 402.8l1.4 -1.4l1.4 1.4l-1.4 1.4z"/>
<path d="M423.8 408.5l1.4 -1.4l1.4 1.4l-1.4 1.4z"/>
<path d="M453.9 420.4l1.4 -1.4l1.4 1.4l-1.4 1.4z"/>
<path d="M465.2 425.2l1.4 -1.4l1.4 1.4l-1.4 1.4z"/>
<path d="M475.2 411.4l1.4 -1.4l1.4 1.4l-1.4 1.4z"/>
<path d="M484 402.8l1.4 -1.4l1.4 1.4l-1.4 1.4z"/>
<path d="M492.8 398.4l1.4 -1.4l1.4 1.4l-1.4 1.4z"/>
<path d="M492.8 402.8l1.4 -1.4l1.4 1.4l-1.4 1.4z"/>
<path d="M489 390.3l1.4 -1.4l1.4 1.4l-1.4 1.4z"/>
<path d="M492.8 414.1l1.4 -1.4l1.4 1.4l-1.4 1.4z"/>
<path d="M492.8 418.1l1.4 -1.4l1.4 1.4l-1.4 1.4z"/>
<path d="M487.2 424.4l1.4 -1.4l1.4 1.4l-1.4 1.4z"/>
<path d="M387.2 346.4l1.4 -1.4l1.4 1.4l-1.4 1.4z"/>
<path d="M348.9 350.6l1.4 -1.4l1.4 1.4l-1.4 1.4z"/>
<path d="M354.5 350.2l1.4 -1.4l1.4 1.4l-1.4 1.4z"/>
<path d="M366.1 361.7l1.4 -1.4l1.4 1.4l-1.4 1.4z"/>
<path d="M367.3 372.4l1.4 -1.4l1.4 1.4l-1.4 1.4z"/>
<path d="M387.2 372.4l1.4 -1.4l1.4 1.4l-1.4 1.4z"/>
<path d="M387.8 375.9l1.4 -1.4l1.4 1.4l-1.4 1.4z"/>
<path d="M380.3 382.2l1.4 -1.4l1.4 1.4l-1.4 1.4z"/>
<path d="M385.3 382.8l1.4 -1.4l1.4 1.4l-1.4 1.4z"/>
<path d="M390.3 387.9l1.4 -1.4l1.4 1.4l-1.4 1.4z"/>
<path d="M341 288.4l1.4 -1.4l1.4 1.4l-1.4 1.4z"/>
<path d="M328.8 306.4l1.4 -1.4l1.4 1.4l-1.4 1.4z"/>
<path d="M337 313.5l1.4 -1.4l1.4 1.4l-1.4 1.4z"/>
<path d="M327.9 316.7l1.4 -1.4l1.4 1.4l-1.4 1.4z"/>
<path d="M306.2 282.5l1.4 -1.4l1.4 1.4l-1.4 1.4z"/>
<path d="M383.4 282.5l1.4 -1.4l1.4 1.4l-1.4 1.4z"/>
<path d="M300.2 258.4l1.4 -1.4l1.4 1.4l-1.4 1.4z"/>
<path d="M305.6 282.9l1.4 -1.4l1.4 1.4l-1.4 1.4z"/>
<path d="M337.8 250.6l1.4 -1.4l1.4 1.4l-1.4 1.4z"/>
<path d="M326.3 265l1.4 -1.4l1.4 1.4l-1.4 1.4z"/>
<path d="M326.9 274.4l1.4 -1.4l1.4 1.4l-1.4 1.4z"/>
<path d="M338.2 276.3l1.4 -1.4l1.4 1.4l-1.4 1.4z"/>
<path d="M358.9 233.3l1.4 -1.4l1.4 1.4l-1.4 1.4z"/>
<path d="M387.8 244.3l1.4 -1.4l1.4 1.4l-1.4 1.4z"/>
<path d="M382.8 282.2l1.4 -1.4l1.4 1.4l-1.4 1.4z"/>
<path d="M326 177l1.4 -1.4l1.4 1.4l-1.4 1.4z"/>
<path d="M329.2 179.5l1.4 -1.4l1.4 1.4l-1.4 1.4z"/>
<path d="M342 180.8l1.4 -1.4l1.4 1.4l-1.4 1.4z"/>
<path d="M293.9 197.6l1.4 -1.4l1.4 1.4l-1.4 1.4z"/>
<path d="M298.1 202.4l1.4 -1.4l1.4 1.4l-1.4 1.4z"/>
<path d="M294.9 227.2l1.4 -1.4l1.4 1.4l-1.4 1.4z"/>
<path d="M340.1 219.6l1.4 -1.4l1.4 1.4l-1.4 1.4z"/>
<path d="M381.3 211.4l1.4 -1.4l1.4 1.4l-1.4 1.4z"/>
<path d="M332.8 146.6l1.4 -1.4l1.4 1.4l-1.4 1.4z"/>
<path d="M329.2 152.2l1.4 -1.4l1.4 1.4l-1.4 1.4z"/>
<path d="M333.8 151.4l1.4 -1.4l1.4 1.4l-1.4 1.4z"/>
<path d="M342 151l1.4 -1.4l1.4 1.4l-1.4 1.4z"/>
<path d="M357.9 144.1l1.4 -1.4l1.4 1.4l-1.4 1.4z"/>
<path d="M362.1 146.6l1.4 -1.4l1.4 1.4l-1.4 1.4z"/>
<path d="M385.3 148.1l1.4 -1.4l1.4 1.4l-1.4 1.4z"/>
<path d="M326 176.1l1.4 -1.4l1.4 1.4l-1.4 1.4z"/>
<path d="M329.2 179.2l1.4 -1.4l1.4 1.4l-1.4 1.4z"/>
<path d="M342 179.9l1.4 -1.4l1.4 1.4l-1.4 1.4z"/>
<path d="M343.9 103.1l1.4 -1.4l1.4 1.4l-1.4 1.4z"/>
<path d="M365.8 94.6l1.4 -1.4l1.4 1.4l-1.4 1.4z"/>
<path d="M380.9 100.2l1.4 -1.4l1.4 1.4l-1.4 1.4z"/>
<path d="M380.9 112.4l1.4 -1.4l1.4 1.4l-1.4 1.4z"/>
<path d="M431 92.3l1.4 -1.4l1.4 1.4l-1.4 1.4z"/>
<path d="M413.7 100.2l1.4 -1.4l1.4 1.4l-1.4 1.4z"/>
<path d="M418.1 100.2l1.4 -1.4l1.4 1.4l-1.4 1.4z"/>
<path d="M423.1 100.6l1.4 -1.4l1.4 1.4l-1.4 1.4z"/>
<path d="M494.1 79.8l1.4 -1.4l1.4 1.4l-1.4 1.4z"/>
<path d="M494.1 108.7l1.4 -1.4l1.4 1.4l-1.4 1.4z"/>
<path d="M483.4 76.4l1.4 -1.4l1.4 1.4l-1.4 1.4z"/>
<path d="M486.5 74.5l1.4 -1.4l1.4 1.4l-1.4 1.4z"/>
<path d="M492.2 74.5l1.4 -1.4l1.4 1.4l-1.4 1.4z"/>
<path d="M420 128.1l1.4 -1.4l1.4 1.4l-1.4 1.4z"/>
<path d="M427.5 128.1l1.4 -1.4l1.4 1.4l-1.4 1.4z"/>
<path d="M491.7 74.5l1.4 -1.4l1.4 1.4l-1.4 1.4z"/>
<path d="M494.2 79.5l1.4 -1.4l1.4 1.4l-1.4 1.4z"/>
<path d="M523.1 83.5l1.4 -1.4l1.4 1.4l-1.4 1.4z"/>
<path d="M531 75.5l1.4 -1.4l1.4 1.4l-1.4 1.4z"/>
<path d="M494.2 108.7l1.4 -1.4l1.4 1.4l-1.4 1.4z"/>
<path d="M562.9 93.6l1.4 -1.4l1.4 1.4l-1.4 1.4z"/>
<path d="M552 104.9l1.4 -1.4l1.4 1.4l-1.4 1.4z"/>
<path d="M582.1 116.2l1.4 -1.4l1.4 1.4l-1.4 1.4z"/>
<path d="M584 123.5l1.4 -1.4l1.4 1.4l-1.4 1.4z"/>
<path d="M580.2 126.9l1.4 -1.4l1.4 1.4l-1.4 1.4z"/>
<path d="M420 128.6l1.4 -1.4l1.4 1.4l-1.4 1.4z"/>
<path d="M427.8 128.6l1.4 -1.4l1.4 1.4l-1.4 1.4z"/>
<path d="M417.2 135.9l1.4 -1.4l1.4 1.4l-1.4 1.4z"/>
<path d="M384.9 148.5l1.4 -1.4l1.4 1.4l-1.4 1.4z"/>
<path d="M550.1 150.6l1.4 -1.4l1.4 1.4l-1.4 1.4z"/>
<path d="M561.2 161.4l1.4 -1.4l1.4 1.4l-1.4 1.4z"/>
<path d="M580.2 127.4l1.4 -1.4l1.4 1.4l-1.4 1.4z"/>
<path d="M595.3 142.5l1.4 -1.4l1.4 1.4l-1.4 1.4z"/>
<path d="M595 177.7l1.4 -1.4l1.4 1.4l-1.4 1.4z"/>
<path d="M584.6 124.6l1.4 -1.4l1.4 1.4l-1.4 1.4z"/>
<path d="M428.2 187.5l1.4 -1.4l1.4 1.4l-1.4 1.4z"/>
<path d="M421.3 192.9l1.4 -1.4l1.4 1.4l-1.4 1.4z"/>
<path d="M420 204.2l1.4 -1.4l1.4 1.4l-1.4 1.4z"/>
<path d="M433.2 211.5l1.4 -1.4l1.4 1.4l-1.4 1.4z"/>
<path d="M453.3 207.4l1.4 -1.4l1.4 1.4l-1.4 1.4z"/>
<path d="M444.9 230.2l1.4 -1.4l1.4 1.4l-1.4 1.4z"/>
<path d="M589 183.3l1.4 -1.4l1.4 1.4l-1.4 1.4z"/>
<path d="M589 188.8l1.4 -1.4l1.4 1.4l-1.4 1.4z"/>
<path d="M595.3 177.5l1.4 -1.4l1.4 1.4l-1.4 1.4z"/>
<path d="M577.7 227.5l1.4 -1.4l1.4 1.4l-1.4 1.4z"/>
<path d="M581.5 227.5l1.4 -1.4l1.4 1.4l-1.4 1.4z"/>
<path d="M508.1 224.3l1.4 -1.4l1.4 1.4l-1.4 1.4z"/>
<path d="M387.6 244.3l1.4 -1.4l1.4 1.4l-1.4 1.4z"/>
<path d="M425.7 241.8l1.4 -1.4l1.4 1.4l-1.4 1.4z"/>
<path d="M433.8 247.5l1.4 -1.4l1.4 1.4l-1.4 1.4z"/>
<path d="M412.7 251.5l1.4 -1.4l1.4 1.4l-1.4 1.4z"/>
<path d="M431 254.4l1.4 -1.4l1.4 1.4l-1.4 1.4z"/>
<path d="M425.3 260l1.4 -1.4l1.4 1.4l-1.4 1.4z"/>
<path d="M406.8 269.4l1.4 -1.4l1.4 1.4l-1.4 1.4z"/>
<path d="M413.1 276.3l1.4 -1.4l1.4 1.4l-1.4 1.4z"/>
<path d="M455.8 242.8l1.4 -1.4l1.4 1.4l-1.4 1.4z"/>
<path d="M496.6 259.1l1.4 -1.4l1.4 1.4l-1.4 1.4z"/>
<path d="M444.5 229.9l1.4 -1.4l1.4 1.4l-1.4 1.4z"/>
<path d="M496.8 259.4l1.4 -1.4l1.4 1.4l-1.4 1.4z"/>
<path d="M580.2 255l1.4 -1.4l1.4 1.4l-1.4 1.4z"/>
<path d="M577.1 274.7l1.4 -1.4l1.4 1.4l-1.4 1.4z"/>
<path d="M579 228.6l1.4 -1.4l1.4 1.4l-1.4 1.4z"/>
<path d="M491.5 302l1.4 -1.4l1.4 1.4l-1.4 1.4z"/>
<path d="M497.2 305.7l1.4 -1.4l1.4 1.4l-1.4 1.4z"/>
<path d="M470.2 323.6l1.4 -1.4l1.4 1.4l-1.4 1.4z"/>
<path d="M474 327.4l1.4 -1.4l1.4 1.4l-1.4 1.4z"/>
<path d="M467.7 331.2l1.4 -1.4l1.4 1.4l-1.4 1.4z"/>
<path d="M501 335.2l1.4 -1.4l1.4 1.4l-1.4 1.4z"/>
<path d="M491.7 301.3l1.4 -1.4l1.4 1.4l-1.4 1.4z"/>
<path d="M496.8 305.7l1.4 -1.4l1.4 1.4l-1.4 1.4z"/>
<path d="M545.1 302.6l1.4 -1.4l1.4 1.4l-1.4 1.4z"/>
<path d="M535.7 321.4l1.4 -1.4l1.4 1.4l-1.4 1.4z"/>
<path d="M500.5 334.9l1.4 -1.4l1.4 1.4l-1.4 1.4z"/>
<path d="M538.8 334.2l1.4 -1.4l1.4 1.4l-1.4 1.4z"/>
<path d="M545.1 334.9l1.4 -1.4l1.4 1.4l-1.4 1.4z"/>
<path d="M386.7 346.2l1.4 -1.4l1.4 1.4l-1.4 1.4z"/>
<path d="M386.7 372.2l1.4 -1.4l1.4 1.4l-1.4 1.4z"/>
<path d="M387.4 376.2l1.4 -1.4l1.4 1.4l-1.4 1.4z"/>
<path d="M469 371.9l1.4 -1.4l1.4 1.4l-1.4 1.4z"/>
<path d="M475.2 372.4l1.4 -1.4l1.4 1.4l-1.4 1.4z"/>
<path d="M469 375.7l1.4 -1.4l1.4 1.4l-1.4 1.4z"/>
<path d="M403.7 387.2l1.4 -1.4l1.4 1.4l-1.4 1.4z"/>
<path d="M501 335.5l1.4 -1.4l1.4 1.4l-1.4 1.4z"/>
<path d="M501 382.2l1.4 -1.4l1.4 1.4l-1.4 1.4z"/>
<path d="M384.9 382.2l1.4 -1.4l1.4 1.4l-1.4 1.4z"/>
<path d="M500.5 335.5l1.4 -1.4l1.4 1.4l-1.4 1.4z"/>
<path d="M538.8 334.5l1.4 -1.4l1.4 1.4l-1.4 1.4z"/>
<path d="M545.1 335.5l1.4 -1.4l1.4 1.4l-1.4 1.4z"/>
<path d="M548.9 375.3l1.4 -1.4l1.4 1.4l-1.4 1.4z"/>
<path d="M521.9 378.4l1.4 -1.4l1.4 1.4l-1.4 1.4z"/>
<path d="M501.2 382.5l1.4 -1.4l1.4 1.4l-1.4 1.4z"/>
<path d="M548.9 382.5l1.4 -1.4l1.4 1.4l-1.4 1.4z"/>
<path d="M587.1 364.6l1.4 -1.4l1.4 1.4l-1.4 1.4z"/>
<path d="M587.1 372.4l1.4 -1.4l1.4 1.4l-1.4 1.4z"/>
<path d="M592.2 375.3l1.4 -1.4l1.4 1.4l-1.4 1.4z"/>
<path d="M592.2 381.6l1.4 -1.4l1.4 1.4l-1.4 1.4z"/>
<path d="M599.7 375.9l1.4 -1.4l1.4 1.4l-1.4 1.4z"/>
<path d="M607.8 373.4l1.4 -1.4l1.4 1.4l-1.4 1.4z"/>
<path fill-rule="evenodd" d="M476.8 201.1h2.6a1.5 1.5 0 0 1 1.5 1.5v7.6a1.5 1.5 0 0 1 -1.5 1.5h-2.6a1.5 1.5 0 0 1 -1.5 -1.5v-7.6a1.5 1.5 0 0 1 1.5 -1.5zM477.1 206.4a1 1 0 1 0 2 0a1 1 0 1 0 -2 0z"/>
<path fill-rule="evenodd" d="M476.8 236.3h2.6a1.5 1.5 0 0 1 1.5 1.5v7.6a1.5 1.5 0 0 1 -1.5 1.5h-2.6a1.5 1.5 0 0 1 -1.5 -1.5v-7.6a1.5 1.5 0 0 1 1.5 -1.5zM477.1 241.6a1 1 0 1 0 2 0a1 1 0 1 0 -2 0z"/>
<path fill-rule="evenodd" d="M488.3 201.1h2.6a1.5 1.5 0 0 1 1.5 1.5v7.6a1.5 1.5 0 0 1 -1.5 1.5h-2.6a1.5 1.5 0 0 1 -1.5 -1.5v-7.6a1.5 1.5 0 0 1 1.5 -1.5zM488.6 206.4a1 1 0 1 0 2 0a1 1 0 1 0 -2 0z"/>
<path fill-rule="evenodd" d="M488.3 236.3h2.6a1.5 1.5 0 0 1 1.5 1.5v7.6a1.5 1.5 0 0 1 -1.5 1.5h-2.6a1.5 1.5 0 0 1 -1.5 -1.5v-7.6a1.5 1.5 0 0 1 1.5 -1.5zM488.6 241.6a1 1 0 1 0 2 0a1 1 0 1 0 -2 0z"/>
<path fill-rule="evenodd" d="M499.7 201.1h2.6a1.5 1.5 0 0 1 1.5 1.5v7.6a1.5 1.5 0 0 1 -1.5 1.5h-2.6a1.5 1.5 0 0 1 -1.5 -1.5v-7.6a1.5 1.5 0 0 1 1.5 -1.5zM500 206.4a1 1 0 1 0 2 0a1 1 0 1 0 -2 0z"/>
<path fill-rule="evenodd" d="M499.7 236.3h2.6a1.5 1.5 0 0 1 1.5 1.5v7.6a1.5 1.5 0 0 1 -1.5 1.5h-2.6a1.5 1.5 0 0 1 -1.5 -1.5v-7.6a1.5 1.5 0 0 1 1.5 -1.5zM500 241.6a1 1 0 1 0 2 0a1 1 0 1 0 -2 0z"/>
<path fill-rule="evenodd" d="M511.2 201.1h2.6a1.5 1.5 0 0 1 1.5 1.5v7.6a1.5 1.5 0 0 1 -1.5 1.5h-2.6a1.5 1.5 0 0 1 -1.5 -1.5v-7.6a1.5 1.5 0 0 1 1.5 -1.5zM511.5 206.4a1 1 0 1 0 2 0a1 1 0 1 0 -2 0z"/>
<path fill-rule="evenodd" d="M511.2 236.3h2.6a1.5 1.5 0 0 1 1.5 1.5v7.6a1.5 1.5 0 0 1 -1.5 1.5h-2.6a1.5 1.5 0 0 1 -1.5 -1.5v-7.6a1.5 1.5 0 0 1 1.5 -1.5zM511.5 241.6a1 1 0 1 0 2 0a1 1 0 1 0 -2 0z"/>
<path fill-rule="evenodd" d="M522.6 201.1h2.6a1.5 1.5 0 0 1 1.5 1.5v7.6a1.5 1.5 0 0 1 -1.5 1.5h-2.6a1.5 1.5 0 0 1 -1.5 -1.5v-7.6a1.5 1.5 0 0 1 1.5 -1.5zM522.9 206.4a1 1 0 1 0 2 0a1 1 0 1 0 -2 0z"/>
<path fill-rule="evenodd" d="M522.6 236.3h2.6a1.5 1.5 0 0 1 1.5 1.5v7.6a1.5 1.5 0 0 1 -1.5 1.5h-2.6a1.5 1.5 0 0 1 -1.5 -1.5v-7.6a1.5 1.5 0 0 1 1.5 -1.5zM522.9 241.6a1 1 0 1 0 2 0a1 1 0 1 0 -2 0z"/>
<path fill-rule="evenodd" d="M534.1 201.1h2.6a1.5 1.5 0 0 1 1.5 1.5v7.6a1.5 1.5 0 0 1 -1.5 1.5h-2.6a1.5 1.5 0 0 1 -1.5 -1.5v-7.6a1.5 1.5 0 0 1 1.5 -1.5zM534.4 206.4a1 1 0 1 0 2 0a1 1 0 1 0 -2 0z"/>
<path fill-rule="evenodd" d="M534.1 236.3h2.6a1.5 1.5 0 0 1 1.5 1.5v7.6a1.5 1.5 0 0 1 -1.5 1.5h-2.6a1.5 1.5 0 0 1 -1.5 -1.5v-7.6a1.5 1.5 0 0 1 1.5 -1.5zM534.4 241.6a1 1 0 1 0 2 0a1 1 0 1 0 -2 0z"/>
<path fill-rule="evenodd" d="M545.6 201.1h2.6a1.5 1.5 0 0 1 1.5 1.5v7.6a1.5 1.5 0 0 1 -1.5 1.5h-2.6a1.5 1.5 0 0 1 -1.5 -1.5v-7.6a1.5 1.5 0 0 1 1.5 -1.5zM545.9 206.4a1 1 0 1 0 2 0a1 1 0 1 0 -2 0z"/>
<path fill-rule="evenodd" d="M545.6 236.3h2.6a1.5 1.5 0 0 1 1.5 1.5v7.6a1.5 1.5 0 0 1 -1.5 1.5h-2.6a1.5 1.5 0 0 1 -1.5 -1.5v-7.6a1.5 1.5 0 0 1 1.5 -1.5zM545.9 241.6a1 1 0 1 0 2 0a1 1 0 1 0 -2 0z"/>
<path fill-rule="evenodd" d="M557 201.1h2.6a1.5 1.5 0 0 1 1.5 1.5v7.6a1.5 1.5 0 0 1 -1.5 1.5h-2.6a1.5 1.5 0 0 1 -1.5 -1.5v-7.6a1.5 1.5 0 0 1 1.5 -1.5zM557.3 206.4a1 1 0 1 0 2 0a1 1 0 1 0 -2 0z"/>
<path fill-rule="evenodd" d="M557 236.3h2.6a1.5 1.5 0 0 1 1.5 1.5v7.6a1.5 1.5 0 0 1 -1.5 1.5h-2.6a1.5 1.5 0 0 1 -1.5 -1.5v-7.6a1.5 1.5 0 0 1 1.5 -1.5zM557.3 241.6a1 1 0 1 0 2 0a1 1 0 1 0 -2 0z"/>
<path fill-rule="evenodd" d="M568.5 201.1h2.6a1.5 1.5 0 0 1 1.5 1.5v7.6a1.5 1.5 0 0 1 -1.5 1.5h-2.6a1.5 1.5 0 0 1 -1.5 -1.5v-7.6a1.5 1.5 0 0 1 1.5 -1.5zM568.8 206.4a1 1 0 1 0 2 0a1 1 0 1 0 -2 0z"/>
<path fill-rule="evenodd" d="M568.5 236.3h2.6a1.5 1.5 0 0 1 1.5 1.5v7.6a1.5 1.5 0 0 1 -1.5 1.5h-2.6a1.5 1.5 0 0 1 -1.5 -1.5v-7.6a1.5 1.5 0 0 1 1.5 -1.5zM568.8 241.6a1 1 0 1 0 2 0a1 1 0 1 0 -2 0z"/>
<path fill-rule="evenodd" d="M579.9 201.1h2.6a1.5 1.5 0 0 1 1.5 1.5v7.6a1.5 1.5 0 0 1 -1.5 1.5h-2.6a1.5 1.5 0 0 1 -1.5 -1.5v-7.6a1.5 1.5 0 0 1 1.5 -1.5zM580.2 206.4a1 1 0 1 0 2 0a1 1 0 1 0 -2 0z"/>
<path fill-rule="evenodd" d="M579.9 236.3h2.6a1.5 1.5 0 0 1 1.5 1.5v7.6a1.5 1.5 0 0 1 -1.5 1.5h-2.6a1.5 1.5 0 0 1 -1.5 -1.5v-7.6a1.5 1.5 0 0 1 1.5 -1.5zM580.2 241.6a1 1 0 1 0 2 0a1 1 0 1 0 -2 0z"/>
<path fill-rule="evenodd" d="M591.4 201.1h2.6a1.5 1.5 0 0 1 1.5 1.5v7.6a1.5 1.5 0 0 1 -1.5 1.5h-2.6a1.5 1.5 0 0 1 -1.5 -1.5v-7.6a1.5 1.5 0 0 1 1.5 -1.5zM591.7 206.4a1 1 0 1 0 2 0a1 1 0 1 0 -2 0z"/>
<path fill-rule="evenodd" d="M591.4 236.3h2.6a1.5 1.5 0 0 1 1.5 1.5v7.6a1.5 1.5 0 0 1 -1.5 1.5h-2.6a1.5 1.5 0 0 1 -1.5 -1.5v-7.6a1.5 1.5 0 0 1 1.5 -1.5zM591.7 241.6a1 1 0 1 0 2 0a1 1 0 1 0 -2 0z"/>
<path fill-rule="evenodd" d="M602.9 201.1h2.6a1.5 1.5 0 0 1 1.5 1.5v7.6a1.5 1.5 0 0 1 -1.5 1.5h-2.6a1.5 1.5 0 0 1 -1.5 -1.5v-7.6a1.5 1.5 0 0 1 1.5 -1.5zM603.2 206.4a1 1 0 1 0 2 0a1 1 0 1 0 -2 0z"/>
<path fill-rule="evenodd" d="M602.9 236.3h2.6a1.5 1.5 0 0 1 1.5 1.5v7.6a1.5 1.5 0 0 1 -1.5 1.5h-2.6a1.5 1.5 0 0 1 -1.5 -1.5v-7.6a1.5 1.5 0 0 1 1.5 -1.5zM603.2 241.6a1 1 0 1 0 2 0a1 1 0 1 0 -2 0z"/>
<path fill-rule="evenodd" d="M421.8 269.4a4.6 4.6 0 1 0 9.2 0a4.6 4.6 0 1 0 -9.2 0zM425.6 269.4a0.8 0.8 0 1 0 1.6 0a0.8 0.8 0 1 0 -1.6 0z"/>
<path fill-rule="evenodd" d="M433.7 269.4a4.6 4.6 0 1 0 9.2 0a4.6 4.6 0 1 0 -9.2 0zM437.5 269.4a0.8 0.8 0 1 0 1.6 0a0.8 0.8 0 1 0 -1.6 0z"/>
<path fill-rule="evenodd" d="M445 269.4a4.6 4.6 0 1 0 9.2 0a4.6 4.6 0 1 0 -9.2 0zM448.8 269.4a0.8 0.8 0 1 0 1.6 0a0.8 0.8 0 1 0 -1.6 0z"/>
<path fill-rule="evenodd" d="M421.8 280.9a4.6 4.6 0 1 0 9.2 0a4.6 4.6 0 1 0 -9.2 0zM425.6 280.9a0.8 0.8 0 1 0 1.6 0a0.8 0.8 0 1 0 -1.6 0z"/>
<path fill-rule="evenodd" d="M433.7 280.9a4.6 4.6 0 1 0 9.2 0a4.6 4.6 0 1 0 -9.2 0zM437.5 280.9a0.8 0.8 0 1 0 1.6 0a0.8 0.8 0 1 0 -1.6 0z"/>
<path fill-rule="evenodd" d="M445 280.9a4.6 4.6 0 1 0 9.2 0a4.6 4.6 0 1 0 -9.2 0zM448.8 280.9a0.8 0.8 0 1 0 1.6 0a0.8 0.8 0 1 0 -1.6 0z"/>
<path fill-rule="evenodd" d="M386.6 292.5L389.4 289.7L393.2 289.7L396 292.5L396 296.3L393.2 299.1L389.4 299.1L386.6 296.3zM390.2 294.4a1.1 1.1 0 1 0 2.2 0a1.1 1.1 0 1 0 -2.2 0z"/>
<path fill-rule="evenodd" d="M398.9 292.5L401.7 289.7L405.5 289.7L408.3 292.5L408.3 296.3L405.5 299.1L401.7 299.1L398.9 296.3zM402.5 294.4a1.1 1.1 0 1 0 2.2 0a1.1 1.1 0 1 0 -2.2 0z"/>
<path fill-rule="evenodd" d="M372.3 258.1a3 3 0 1 0 6 0a3 3 0 1 0 -6 0zM374.3 258.1a1 1 0 1 0 2 0a1 1 0 1 0 -2 0z"/>
<path fill-rule="evenodd" d="M394.3 258.1a3 3 0 1 0 6 0a3 3 0 1 0 -6 0zM396.3 258.1a1 1 0 1 0 2 0a1 1 0 1 0 -2 0z"/>
</g>
<g opacity="0.9" fill="none" stroke="rgb(0,128,0)" stroke-width="0.7">
<rect x="360.8" y="245.4" width="49.5" height="25.5" rx="4"/>
<rect x="362.8" y="247.1" width="45.5" height="22" rx="3.5"/>
<rect x="364.8" y="248.9" width="41.5" height="18.5" rx="3"/>
<rect x="369.3" y="244.9" width="34" height="26.5"/>
</g>
<g opacity="0.5" fill="rgb(0,128,0)">
<rect x="372.3" y="251.1" width="0.8" height="0.8"/>
<rect x="372.3" y="254.6" width="0.8" height="0.8"/>
<rect x="372.3" y="258.1" width="0.8" height="0.8"/>
<rect x="372.3" y="261.6" width="0.8" height="0.8"/>
<rect x="372.3" y="265.1" width="0.8" height="0.8"/>
<rect x="375.8" y="251.1" width="0.8" height="0.8"/>
<rect x="375.8" y="254.6" width="0.8" height="0.8"/>
<rect x="375.8" y="258.1" width="0.8" height="0.8"/>
<rect x="375.8" y="261.6" width="0.8" height="0.8"/>
<rect x="375.8" y="265.1" width="0.8" height="0.8"/>
<rect x="379.3" y="251.1" width="0.8" height="0.8"/>
<rect x="379.3" y="254.6" width="0.8" height="0.8"/>
<rect x="379.3" y="258.1" width="0.8" height="0.8"/>
<rect x="379.3" y="261.6" width="0.8" height="0.8"/>
<rect x="379.3" y="265.1" width="0.8" height="0.8"/>
<rect x="382.8" y="251.1" width="0.8" height="0.8"/>
<rect x="382.8" y="254.6" width="0.8" height="0.8"/>
<rect x="382.8" y="258.1" width="0.8" height="0.8"/>
<rect x="382.8" y="261.6" width="0.8" height="0.8"/>
<rect x="382.8" y="265.1" width="0.8" height="0.8"/>
<rect x="386.3" y="251.1" width="0.8" height="0.8"/>
<rect x="386.3" y="254.6" width="0.8" height="0.8"/>
<rect x="386.3" y="258.1" width="0.8" height="0.8"/>
<rect x="386.3" y="261.6" width="0.8" height="0.8"/>
<rect x="386.3" y="265.1" width="0.8" height="0.8"/>
<rect x="389.8" y="251.1" width="0.8" height="0.8"/>
<rect x="389.8" y="254.6" width="0.8" height="0.8"/>
<rect x="389.8" y="258.1" width="0.8" height="0.8"/>
<rect x="389.8" y="261.6" width="0.8" height="0.8"/>
<rect x="389.8" y="265.1" width="0.8" height="0.8"/>
<rect x="393.3" y="251.1" width="0.8" height="0.8"/>
<rect x="393.3" y="254.6" width="0.8" height="0.8"/>
<rect x="393.3" y="258.1" width="0.8" height="0.8"/>
<rect x="393.3" y="261.6" width="0.8" height="0.8"/>
<rect x="393.3" y="265.1" width="0.8" height="0.8"/>
<rect x="396.8" y="251.1" width="0.8" height="0.8"/>
<rect x="396.8" y="254.6" width="0.8" height="0.8"/>
<rect x="396.8" y="258.1" width="0.8" height="0.8"/>
<rect x="396.8" y="261.6" width="0.8" height="0.8"/>
<rect x="396.8" y="265.1" width="0.8" height="0.8"/>
<rect x="400.3" y="251.1" width="0.8" height="0.8"/>
<rect x="400.3" y="254.6" width="0.8" height="0.8"/>
<rect x="400.3" y="258.1" width="0.8" height="0.8"/>
<rect x="400.3" y="261.6" width="0.8" height="0.8"/>
<rect x="400.3" y="265.1" width="0.8" height="0.8"/>
</g>
<circle cx="490.5" cy="229.2" r="201.5" fill="none" stroke="rgb(0,0,0)" stroke-opacity="0.8" stroke-width="1.8"/>
<g opacity="0.706" fill="rgb(128,128,128)" stroke="none">
<rect x="390.2" y="63.9" width="8.4" height="4"/>
<rect x="390.2" y="74.8" width="8.4" height="4"/>
<rect x="405.3" y="61.7" width="8.4" height="4"/>
<rect x="405.3" y="72.6" width="8.4" height="4"/>
<rect x="416.3" y="50" width="8.4" height="4"/>
<rect x="416.3" y="60.9" width="8.4" height="4"/>
<rect x="434.1" y="44.1" width="8.4" height="4"/>
<rect x="434.1" y="55" width="8.4" height="4"/>
<rect x="445.4" y="38.7" width="8.4" height="4"/>
<rect x="445.4" y="49.6" width="8.4" height="4"/>
<rect x="463.3" y="37.4" width="8.4" height="4"/>
<rect x="463.3" y="48.3" width="8.4" height="4"/>
<rect x="481.2" y="36.3" width="8.4" height="4"/>
<rect x="481.2" y="47.2" width="8.4" height="4"/>
<rect x="500" y="36.3" width="8.4" height="4"/>
<rect x="500" y="47.2" width="8.4" height="4"/>
<rect x="474.1" y="69.4" width="8.4" height="4"/>
<rect x="474.1" y="80.3" width="8.4" height="4"/>
<rect x="518.4" y="37.6" width="8.4" height="4"/>
<rect x="518.4" y="48.5" width="8.4" height="4"/>
<rect x="532.2" y="42.2" width="8.4" height="4"/>
<rect x="532.2" y="53.1" width="8.4" height="4"/>
<rect x="550.2" y="46.6" width="8.4" height="4"/>
<rect x="550.2" y="57.5" width="8.4" height="4"/>
<rect x="565.1" y="53.1" width="8.4" height="4"/>
<rect x="565.1" y="64" width="8.4" height="4"/>
<rect x="577.4" y="61.7" width="8.4" height="4"/>
<rect x="577.4" y="72.6" width="8.4" height="4"/>
<rect x="595.3" y="66.7" width="8.4" height="4"/>
<rect x="595.3" y="77.6" width="8.4" height="4"/>
<rect x="606.5" y="79.1" width="8.4" height="4"/>
<rect x="606.5" y="90" width="8.4" height="4"/>
<rect x="617.8" y="89.8" width="8.4" height="4"/>
<rect x="617.8" y="100.7" width="8.4" height="4"/>
<rect x="632.2" y="104.2" width="8.4" height="4"/>
<rect x="632.2" y="115.1" width="8.4" height="4"/>
<rect x="644.8" y="120.6" width="8.4" height="4"/>
<rect x="644.8" y="131.5" width="8.4" height="4"/>
<rect x="655.4" y="138.7" width="8.4" height="4"/>
<rect x="655.4" y="149.6" width="8.4" height="4"/>
<rect x="666.1" y="161.9" width="8.4" height="4"/>
<rect x="666.1" y="172.8" width="8.4" height="4"/>
<rect x="605.2" y="140.3" width="8.4" height="4"/>
<rect x="605.2" y="151.2" width="8.4" height="4"/>
<rect x="674.3" y="188.8" width="8.4" height="4"/>
<rect x="674.3" y="199.7" width="8.4" height="4"/>
<rect x="681.2" y="216.4" width="8.4" height="4"/>
<rect x="681.2" y="227.3" width="8.4" height="4"/>
<rect x="623.4" y="216.4" width="8.4" height="4"/>
<rect x="623.4" y="227.3" width="8.4" height="4"/>
<rect x="677.4" y="243.9" width="8.4" height="4"/>
<rect x="677.4" y="254.8" width="8.4" height="4"/>
<rect x="669.9" y="271.5" width="8.4" height="4"/>
<rect x="669.9" y="282.4" width="8.4" height="4"/>
<rect x="595.2" y="273.4" width="8.4" height="4"/>
<rect x="595.2" y="284.3" width="8.4" height="4"/>
<rect x="661.1" y="295" width="8.4" height="4"/>
<rect x="661.1" y="305.9" width="8.4" height="4"/>
<rect x="650.4" y="314.8" width="8.4" height="4"/>
<rect x="650.4" y="325.7" width="8.4" height="4"/>
<rect x="639.1" y="329.2" width="8.4" height="4"/>
<rect x="639.1" y="340.1" width="8.4" height="4"/>
<rect x="627.2" y="347.3" width="8.4" height="4"/>
<rect x="627.2" y="358.2" width="8.4" height="4"/>
<rect x="612.1" y="360.9" width="8.4" height="4"/>
<rect x="612.1" y="371.8" width="8.4" height="4"/>
<rect x="597.1" y="371.1" width="8.4" height="4"/>
<rect x="597.1" y="382" width="8.4" height="4"/>
<rect x="583.7" y="378.6" width="8.4" height="4"/>
<rect x="583.7" y="389.5" width="8.4" height="4"/>
<rect x="566.1" y="388.6" width="8.4" height="4"/>
<rect x="566.1" y="399.5" width="8.4" height="4"/>
<rect x="554.2" y="394.3" width="8.4" height="4"/>
<rect x="554.2" y="405.2" width="8.4" height="4"/>
<rect x="543.3" y="399.9" width="8.4" height="4"/>
<rect x="543.3" y="410.8" width="8.4" height="4"/>
<rect x="531" y="405.8" width="8.4" height="4"/>
<rect x="531" y="416.7" width="8.4" height="4"/>
<rect x="514" y="406.2" width="8.4" height="4"/>
<rect x="514" y="417.1" width="8.4" height="4"/>
<rect x="494.3" y="409.3" width="8.4" height="4"/>
<rect x="494.3" y="420.2" width="8.4" height="4"/>
<rect x="478.5" y="409.1" width="8.4" height="4"/>
<rect x="478.5" y="420" width="8.4" height="4"/>
<rect x="468" y="406.2" width="8.4" height="4"/>
<rect x="468" y="417.1" width="8.4" height="4"/>
<rect x="457.1" y="406.2" width="8.4" height="4"/>
<rect x="457.1" y="417.1" width="8.4" height="4"/>
<rect x="442.1" y="405.3" width="8.4" height="4"/>
<rect x="442.1" y="416.2" width="8.4" height="4"/>
<rect x="422" y="399.7" width="8.4" height="4"/>
<rect x="422" y="410.6" width="8.4" height="4"/>
<rect x="407.2" y="392.8" width="8.4" height="4"/>
<rect x="407.2" y="403.7" width="8.4" height="4"/>
<rect x="391.1" y="382.7" width="8.4" height="4"/>
<rect x="391.1" y="393.6" width="8.4" height="4"/>
<rect x="372.2" y="373" width="8.4" height="4"/>
<rect x="372.2" y="383.9" width="8.4" height="4"/>
<rect x="354.9" y="357.1" width="8.4" height="4"/>
<rect x="354.9" y="368" width="8.4" height="4"/>
<rect x="338.2" y="343.3" width="8.4" height="4"/>
<rect x="338.2" y="354.2" width="8.4" height="4"/>
<rect x="322.9" y="322.9" width="8.4" height="4"/>
<rect x="322.9" y="333.8" width="8.4" height="4"/>
<rect x="309.1" y="302.2" width="8.4" height="4"/>
<rect x="309.1" y="313.1" width="8.4" height="4"/>
<rect x="300.9" y="277.1" width="8.4" height="4"/>
<rect x="300.9" y="288" width="8.4" height="4"/>
<rect x="359.3" y="279.6" width="8.4" height="4"/>
<rect x="359.3" y="290.5" width="8.4" height="4"/>
<rect x="294" y="248.9" width="8.4" height="4"/>
<rect x="294" y="259.8" width="8.4" height="4"/>
<rect x="290.2" y="222" width="8.4" height="4"/>
<rect x="290.2" y="232.9" width="8.4" height="4"/>
<rect x="342" y="228.2" width="8.4" height="4"/>
<rect x="342" y="239.1" width="8.4" height="4"/>
<rect x="297.1" y="196.9" width="8.4" height="4"/>
<rect x="297.1" y="207.8" width="8.4" height="4"/>
<rect x="304.4" y="173.1" width="8.4" height="4"/>
<rect x="304.4" y="184" width="8.4" height="4"/>
<rect x="314.1" y="149.3" width="8.4" height="4"/>
<rect x="314.1" y="160.2" width="8.4" height="4"/>
<rect x="324.1" y="131.1" width="8.4" height="4"/>
<rect x="324.1" y="142" width="8.4" height="4"/>
<rect x="354.3" y="151.2" width="8.4" height="4"/>
<rect x="354.3" y="162.1" width="8.4" height="4"/>
<rect x="334.8" y="114.9" width="8.4" height="4"/>
<rect x="334.8" y="125.8" width="8.4" height="4"/>
<rect x="346.1" y="98" width="8.4" height="4"/>
<rect x="346.1" y="108.9" width="8.4" height="4"/>
<rect x="359" y="84.8" width="8.4" height="4"/>
<rect x="359" y="95.7" width="8.4" height="4"/>
<rect x="373.7" y="73.5" width="8.4" height="4"/>
<rect x="373.7" y="84.4" width="8.4" height="4"/>
<rect x="410.9" y="107.4" width="8.4" height="4"/>
<rect x="410.9" y="118.3" width="8.4" height="4"/>
<rect x="547.3" y="97.6" width="8.4" height="4"/>
<rect x="547.3" y="108.5" width="8.4" height="4"/>
<rect x="410.9" y="325.4" width="8.4" height="4"/>
<rect x="410.9" y="336.3" width="8.4" height="4"/>
<rect x="554.6" y="320.1" width="8.4" height="4"/>
<rect x="554.6" y="331" width="8.4" height="4"/>
<rect x="491.3" y="354.2" width="8.4" height="4"/>
<rect x="491.3" y="365.1" width="8.4" height="4"/>
<rect x="407.1" y="196.1" width="5.3" height="6.3"/>
<rect x="407.1" y="234.4" width="5.3" height="5.8"/>
<rect x="414" y="196.1" width="5.4" height="6.3"/>
<rect x="414" y="234.4" width="5.4" height="5.8"/>
<rect x="421.3" y="196.1" width="3.7" height="6.3"/>
<rect x="421.3" y="234.4" width="3.7" height="5.8"/>
<rect x="425.5" y="196.1" width="6" height="6.3"/>
<rect x="425.5" y="234.4" width="6" height="5.8"/>
<rect x="432.7" y="196.1" width="2.1" height="6.3"/>
<rect x="432.7" y="234.4" width="2.1" height="5.8"/>
<rect x="398.7" y="204.6" width="6" height="2.7"/>
<rect x="436.7" y="204.6" width="6" height="2.7"/>
<rect x="398.7" y="208.5" width="6" height="4.3"/>
<rect x="436.7" y="208.5" width="6" height="4.3"/>
<rect x="398.7" y="214.7" width="6" height="5.5"/>
<rect x="436.7" y="214.7" width="6" height="5.5"/>
<rect x="398.7" y="222.3" width="6" height="3.5"/>
<rect x="436.7" y="222.3" width="6" height="3.5"/>
<rect x="398.7" y="227" width="6" height="4.4"/>
<rect x="436.7" y="227" width="6" height="4.4"/>
<rect x="369.3" y="249.8" width="34" height="1.6"/>
<rect x="369.3" y="266.4" width="34" height="1.6"/>
<rect x="409" y="244.2" width="19" height="1.8"/>
<rect x="406" y="193.3" width="5" height="1.8"/>
<rect x="493.5" y="66.5" width="3" height="5"/>
<rect x="501.7" y="66.5" width="3" height="5"/>
<rect x="371.8" y="285.3" width="3.5" height="5"/>
<rect x="379.2" y="285.3" width="3.5" height="5"/>
<rect x="343.6" y="212.2" width="3.5" height="5"/>
<rect x="351.1" y="212.2" width="3.5" height="5"/>
<rect x="367.6" y="147.2" width="3.5" height="5"/>
<rect x="375.1" y="147.2" width="3.5" height="5"/>
<rect x="424.6" y="105.9" width="3.5" height="5"/>
<rect x="432.9" y="105.9" width="3.5" height="5"/>
<rect x="538.5" y="189.1" width="3.5" height="5"/>
<rect x="546.2" y="189.1" width="3.5" height="5"/>
<rect x="529.7" y="185.3" width="4" height="4"/>
<rect x="529.7" y="192.2" width="4" height="4"/>
<rect x="464" y="271.4" width="4" height="3.5"/>
<rect x="464" y="278.9" width="4" height="3.5"/>
<rect x="403.4" y="310.1" width="4.5" height="5.5"/>
<rect x="412.9" y="310.1" width="4.5" height="5.5"/>
<rect x="548.3" y="303.9" width="4" height="5"/>
<rect x="556" y="303.9" width="4" height="5"/>
<rect x="485.3" y="338.5" width="4" height="5"/>
<rect x="493.5" y="338.5" width="4" height="5"/>
<rect x="376.9" y="214.1" width="3.5" height="4"/>
<rect x="382.4" y="214.1" width="3.5" height="4"/>
<rect x="376.9" y="221.1" width="3.5" height="4"/>
<rect x="382.4" y="221.1" width="3.5" height="4"/>
<rect x="374.2" y="274.4" width="3.5" height="4"/>
<rect x="379.7" y="274.4" width="3.5" height="4"/>
<rect x="395.8" y="274.4" width="3.5" height="4"/>
<rect x="401.3" y="274.4" width="3.5" height="4"/>
<rect x="451.1" y="225.6" width="3.5" height="4"/>
<rect x="456.1" y="225.6" width="3.5" height="4"/>
</g>
<g opacity="0.8" fill="none" stroke="rgb(128,128,128)" stroke-width="1">
<path d="M390.6 67.4v7.6M398.2 67.4v7.6"/>
<path d="M405.7 65.2v7.6M413.3 65.2v7.6"/>
<path d="M416.7 53.5v7.6M424.3 53.5v7.6"/>
<path d="M434.5 47.6v7.6M442.1 47.6v7.6"/>
<path d="M445.8 42.2v7.6M453.4 42.2v7.6"/>
<path d="M463.7 40.9v7.6M471.3 40.9v7.6"/>
<path d="M481.6 39.8v7.6M489.2 39.8v7.6"/>
<path d="M500.4 39.8v7.6M508 39.8v7.6"/>
<path d="M474.5 72.9v7.6M482.1 72.9v7.6"/>
<path d="M518.8 41.1v7.6M526.4 41.1v7.6"/>
<path d="M532.6 45.7v7.6M540.2 45.7v7.6"/>
<path d="M550.6 50.1v7.6M558.2 50.1v7.6"/>
<path d="M565.5 56.6v7.6M573.1 56.6v7.6"/>
<path d="M577.8 65.2v7.6M585.4 65.2v7.6"/>
<path d="M595.7 70.2v7.6M603.3 70.2v7.6"/>
<path d="M606.9 82.6v7.6M614.5 82.6v7.6"/>
<path d="M618.2 93.3v7.6M625.8 93.3v7.6"/>
<path d="M632.6 107.7v7.6M640.2 107.7v7.6"/>
<path d="M645.2 124.1v7.6M652.8 124.1v7.6"/>
<path d="M655.8 142.2v7.6M663.4 142.2v7.6"/>
<path d="M666.5 165.4v7.6M674.1 165.4v7.6"/>
<path d="M605.6 143.8v7.6M613.2 143.8v7.6"/>
<path d="M674.7 192.3v7.6M682.3 192.3v7.6"/>
<path d="M681.6 219.9v7.6M689.2 219.9v7.6"/>
<path d="M623.8 219.9v7.6M631.4 219.9v7.6"/>
<path d="M677.8 247.4v7.6M685.4 247.4v7.6"/>
<path d="M670.3 275v7.6M677.9 275v7.6"/>
<path d="M595.6 276.9v7.6M603.2 276.9v7.6"/>
<path d="M661.5 298.5v7.6M669.1 298.5v7.6"/>
<path d="M650.8 318.3v7.6M658.4 318.3v7.6"/>
<path d="M639.5 332.7v7.6M647.1 332.7v7.6"/>
<path d="M627.6 350.8v7.6M635.2 350.8v7.6"/>
<path d="M612.5 364.4v7.6M620.1 364.4v7.6"/>
<path d="M597.5 374.6v7.6M605.1 374.6v7.6"/>
<path d="M584.1 382.1v7.6M591.7 382.1v7.6"/>
<path d="M566.5 392.1v7.6M574.1 392.1v7.6"/>
<path d="M554.6 397.8v7.6M562.2 397.8v7.6"/>
<path d="M543.7 403.4v7.6M551.3 403.4v7.6"/>
<path d="M531.4 409.3v7.6M539 409.3v7.6"/>
<path d="M514.4 409.7v7.6M522 409.7v7.6"/>
<path d="M494.7 412.8v7.6M502.3 412.8v7.6"/>
<path d="M478.9 412.6v7.6M486.5 412.6v7.6"/>
<path d="M468.4 409.7v7.6M476 409.7v7.6"/>
<path d="M457.5 409.7v7.6M465.1 409.7v7.6"/>
<path d="M442.5 408.8v7.6M450.1 408.8v7.6"/>
<path d="M422.4 403.2v7.6M430 403.2v7.6"/>
<path d="M407.6 396.3v7.6M415.2 396.3v7.6"/>
<path d="M391.5 386.2v7.6M399.1 386.2v7.6"/>
<path d="M372.6 376.5v7.6M380.2 376.5v7.6"/>
<path d="M355.3 360.6v7.6M362.9 360.6v7.6"/>
<path d="M338.6 346.8v7.6M346.2 346.8v7.6"/>
<path d="M323.3 326.4v7.6M330.9 326.4v7.6"/>
<path d="M309.5 305.7v7.6M317.1 305.7v7.6"/>
<path d="M301.3 280.6v7.6M308.9 280.6v7.6"/>
<path d="M359.7 283.1v7.6M367.3 283.1v7.6"/>
<path d="M294.4 252.4v7.6M302 252.4v7.6"/>
<path d="M290.6 225.5v7.6M298.2 225.5v7.6"/>
<path d="M342.4 231.7v7.6M350 231.7v7.6"/>
<path d="M297.5 200.4v7.6M305.1 200.4v7.6"/>
<path d="M304.8 176.6v7.6M312.4 176.6v7.6"/>
<path d="M314.5 152.8v7.6M322.1 152.8v7.6"/>
<path d="M324.5 134.6v7.6M332.1 134.6v7.6"/>
<path d="M354.7 154.7v7.6M362.3 154.7v7.6"/>
<path d="M335.2 118.4v7.6M342.8 118.4v7.6"/>
<path d="M346.5 101.5v7.6M354.1 101.5v7.6"/>
<path d="M359.4 88.3v7.6M367 88.3v7.6"/>
<path d="M374.1 77v7.6M381.7 77v7.6"/>
<path d="M411.3 110.9v7.6M418.9 110.9v7.6"/>
<path d="M547.7 101.1v7.6M555.3 101.1v7.6"/>
<path d="M411.3 328.9v7.6M418.9 328.9v7.6"/>
<path d="M555 323.6v7.6M562.6 323.6v7.6"/>
<path d="M491.7 357.7v7.6M499.3 357.7v7.6"/>
<rect x="404.7" y="202.4" width="32" height="32"/>
<circle cx="407.7" cy="205.4" r="1.2"/>
<path d="M420.5 264.5l2 -2h7.5l2 2l2 -2h7.5l2 2l2 -2h7.5l2 2v21h-34.5z"/>
<path d="M432 264.5v21M444 264.5v21"/>
<path d="M386 290.5l1.5 -1.5h7.5l2.4 2.4l2.4 -2.4h7.5l1.5 1.5v8l-1.5 1.5h-7.5l-2.4 -2.4l-2.4 2.4h-7.5l-1.5 -1.5z"/>
<path d="M474 210.5h134" stroke-dasharray="4 7.4"/>
<path d="M474 237.6h134" stroke-dasharray="4 7.4"/>
<path d="M473 211v9a4 4 0 0 1 0 8v9"/>
<polyline points="610.1,210.1 610.1,233.7" fill="none" stroke="rgb(128,128,128)" stroke-width="0.8" stroke-linecap="round" stroke-linejoin="round"/>
</g>
<g fill="rgb(128,128,128)" opacity="0.9" font-size="7.6" style="filter:grayscale(1)">
<text transform="translate(387.4 78.7) rotate(-90)">LED54</text>
<text transform="translate(402.5 74.5) rotate(-90)">LED55</text>
<text transform="translate(413.5 62.8) rotate(-90)">LED56</text>
<text transform="translate(431.3 56.9) rotate(-90)">LED57</text>
<text transform="translate(442.6 51.5) rotate(-90)">LED58</text>
<text transform="translate(460.5 50.2) rotate(-90)">LED59</text>
<text transform="translate(478.4 49.1) rotate(-90)">LED60</text>
<text transform="translate(497.2 49.1) rotate(-90)">LED1</text>
<text transform="translate(471.3 84.2) rotate(-90)">LED72</text>
<text transform="translate(515.6 50.4) rotate(-90)">LED2</text>
<text transform="translate(529.4 55) rotate(-90)">LED3</text>
<text transform="translate(547.4 59.4) rotate(-90)">LED4</text>
<text transform="translate(562.3 65.9) rotate(-90)">LED5</text>
<text transform="translate(574.6 74.5) rotate(-90)">LED6</text>
<text transform="translate(592.5 81.5) rotate(-90)">LED7</text>
<text transform="translate(603.7 93.9) rotate(-90)">LED8</text>
<text transform="translate(615 104.6) rotate(-90)">LED9</text>
<text transform="translate(629.4 119) rotate(-90)">LED10</text>
<text transform="translate(642 135.4) rotate(-90)">LED11</text>
<text transform="translate(652.6 153.5) rotate(-90)">LED12</text>
<text transform="translate(663.3 176.7) rotate(-90)">LED13</text>
<text transform="translate(602.4 155.1) rotate(-90)">LED62</text>
<text transform="translate(671.5 203.6) rotate(-90)">LED14</text>
<text transform="translate(678.4 231.2) rotate(-90)">LED15</text>
<text transform="translate(620.6 231.2) rotate(-90)">LED63</text>
<text transform="translate(674.6 258.7) rotate(-90)">LED16</text>
<text transform="translate(667.1 286.3) rotate(-90)">LED17</text>
<text transform="translate(592.4 288.2) rotate(-90)">LED64</text>
<text transform="translate(658.3 309.8) rotate(-90)">LED18</text>
<text transform="translate(647.6 329.6) rotate(-90)">LED19</text>
<text transform="translate(636.3 344) rotate(-90)">LED20</text>
<text transform="translate(624.4 362.1) rotate(-90)">LED21</text>
<text transform="translate(609.3 375.7) rotate(-90)">LED22</text>
<text transform="translate(594.3 385.9) rotate(-90)">LED23</text>
<text transform="translate(580.9 393.4) rotate(-90)">LED24</text>
<text transform="translate(563.3 403.4) rotate(-90)">LED25</text>
<text transform="translate(551.4 409.1) rotate(-90)">LED26</text>
<text transform="translate(540.5 414.7) rotate(-90)">LED27</text>
<text transform="translate(528.2 420.6) rotate(-90)">LED28</text>
<text transform="translate(511.2 421) rotate(-90)">LED29</text>
<text transform="translate(491.5 424.1) rotate(-90)">LED30</text>
<text transform="translate(475.7 423.9) rotate(-90)">LED31</text>
<text transform="translate(465.2 421) rotate(-90)">LED32</text>
<text transform="translate(454.3 421) rotate(-90)">LED33</text>
<text transform="translate(439.3 420.1) rotate(-90)">LED34</text>
<text transform="translate(419.2 414.5) rotate(-90)">LED35</text>
<text transform="translate(404.4 407.6) rotate(-90)">LED36</text>
<text transform="translate(388.3 397.5) rotate(-90)">LED37</text>
<text transform="translate(369.4 387.8) rotate(-90)">LED38</text>
<text transform="translate(352.1 371.9) rotate(-90)">LED39</text>
<text transform="translate(335.4 358.1) rotate(-90)">LED40</text>
<text transform="translate(320.1 337.7) rotate(-90)">LED41</text>
<text transform="translate(306.3 317) rotate(-90)">LED42</text>
<text transform="translate(298.1 291.9) rotate(-90)">LED43</text>
<text transform="translate(356.5 294.4) rotate(-90)">LED68</text>
<text transform="translate(291.2 263.7) rotate(-90)">LED44</text>
<text transform="translate(287.4 236.8) rotate(-90)">LED45</text>
<text transform="translate(339.2 243) rotate(-90)">LED69</text>
<text transform="translate(294.3 211.7) rotate(-90)">LED46</text>
<text transform="translate(301.6 187.9) rotate(-90)">LED47</text>
<text transform="translate(311.3 164.1) rotate(-90)">LED48</text>
<text transform="translate(321.3 145.9) rotate(-90)">LED49</text>
<text transform="translate(351.5 166) rotate(-90)">LED70</text>
<text transform="translate(332 129.7) rotate(-90)">LED50</text>
<text transform="translate(343.3 112.8) rotate(-90)">LED51</text>
<text transform="translate(356.2 99.6) rotate(-90)">LED52</text>
<text transform="translate(370.9 88.3) rotate(-90)">LED53</text>
<text transform="translate(408.1 122.2) rotate(-90)">LED71</text>
<text transform="translate(544.5 112.4) rotate(-90)">LED61</text>
<text transform="translate(408.1 340.2) rotate(-90)">LED67</text>
<text transform="translate(551.8 334.9) rotate(-90)">LED65</text>
<text transform="translate(488.5 369) rotate(-90)">LED66</text>
<text transform="translate(369.1 295.7) rotate(0)" font-size="7">R6</text>
<text transform="translate(389.3 308.5) rotate(0)" font-size="7">PWR</text>
<text transform="translate(403.5 308.5) rotate(0)" font-size="7">R5</text>
<text transform="translate(365.4 157.6) rotate(0)" font-size="7">R8</text>
<text transform="translate(427.1 103.6) rotate(0)" font-size="7">R3</text>
<text transform="translate(536.4 199.2) rotate(0)" font-size="6.5">R2</text>
<text transform="translate(535.2 186) rotate(0)" font-size="6.5">R1K</text>
<text transform="translate(480.4 225.8) rotate(0)" font-size="7.2">MAX72XXDIP</text>
<text transform="translate(420.8 260.6) rotate(0)" font-size="6.5">ICSP</text>
<text transform="translate(464.5 236.5) rotate(0)" font-size="8.5">S1</text>
<text transform="translate(420.8 294.6) rotate(0)" font-size="7.5">AVR_SPI_PRG_6PTH</text>
<text transform="translate(487.9 336.5) rotate(0)" font-size="6.5">R4</text>
<text transform="translate(550.9 300.7) rotate(0)" font-size="6.5">R3</text>
<text transform="translate(395 244) rotate(0)" font-size="6.5">12V</text>
<text transform="translate(376 284.5) rotate(0)" font-size="7.5">22PTH</text>
</g>
<g stroke="#000" stroke-opacity="0.85" stroke-width="1" fill="none">
<path d="M392.5 71.5h4M394.5 69.5v4"/>
<path d="M407.5 69.5h4M409.5 67.5v4"/>
<path d="M418.5 57.5h4M420.5 55.5v4"/>
<path d="M436.5 51.5h4M438.5 49.5v4"/>
<path d="M447.5 46.5h4M449.5 44.5v4"/>
<path d="M465.5 44.5h4M467.5 42.5v4"/>
<path d="M483.5 43.5h4M485.5 41.5v4"/>
<path d="M502.5 43.5h4M504.5 41.5v4"/>
<path d="M476.5 76.5h4M478.5 74.5v4"/>
<path d="M520.5 44.5h4M522.5 42.5v4"/>
<path d="M534.5 49.5h4M536.5 47.5v4"/>
<path d="M552.5 53.5h4M554.5 51.5v4"/>
<path d="M567.5 60.5h4M569.5 58.5v4"/>
<path d="M579.5 69.5h4M581.5 67.5v4"/>
<path d="M597.5 74.5h4M599.5 72.5v4"/>
<path d="M608.5 86.5h4M610.5 84.5v4"/>
<path d="M620.5 97.5h4M622.5 95.5v4"/>
<path d="M634.5 111.5h4M636.5 109.5v4"/>
<path d="M647.5 127.5h4M649.5 125.5v4"/>
<path d="M657.5 146.5h4M659.5 144.5v4"/>
<path d="M668.5 169.5h4M670.5 167.5v4"/>
<path d="M607.5 147.5h4M609.5 145.5v4"/>
<path d="M676.5 196.5h4M678.5 194.5v4"/>
<path d="M683.5 223.5h4M685.5 221.5v4"/>
<path d="M625.5 223.5h4M627.5 221.5v4"/>
<path d="M679.5 251.5h4M681.5 249.5v4"/>
<path d="M672.5 278.5h4M674.5 276.5v4"/>
<path d="M597.5 280.5h4M599.5 278.5v4"/>
<path d="M663.5 302.5h4M665.5 300.5v4"/>
<path d="M652.5 322.5h4M654.5 320.5v4"/>
<path d="M641.5 336.5h4M643.5 334.5v4"/>
<path d="M629.5 354.5h4M631.5 352.5v4"/>
<path d="M614.5 368.5h4M616.5 366.5v4"/>
<path d="M599.5 378.5h4M601.5 376.5v4"/>
<path d="M585.5 385.5h4M587.5 383.5v4"/>
<path d="M568.5 395.5h4M570.5 393.5v4"/>
<path d="M556.5 401.5h4M558.5 399.5v4"/>
<path d="M545.5 407.5h4M547.5 405.5v4"/>
<path d="M533.5 413.5h4M535.5 411.5v4"/>
<path d="M516.5 413.5h4M518.5 411.5v4"/>
<path d="M496.5 416.5h4M498.5 414.5v4"/>
<path d="M480.5 416.5h4M482.5 414.5v4"/>
<path d="M470.5 413.5h4M472.5 411.5v4"/>
<path d="M459.5 413.5h4M461.5 411.5v4"/>
<path d="M444.5 412.5h4M446.5 410.5v4"/>
<path d="M424.5 407.5h4M426.5 405.5v4"/>
<path d="M409.5 400.5h4M411.5 398.5v4"/>
<path d="M393.5 390.5h4M395.5 388.5v4"/>
<path d="M374.5 380.5h4M376.5 378.5v4"/>
<path d="M357.5 364.5h4M359.5 362.5v4"/>
<path d="M340.5 350.5h4M342.5 348.5v4"/>
<path d="M325.5 330.5h4M327.5 328.5v4"/>
<path d="M311.5 309.5h4M313.5 307.5v4"/>
<path d="M303.5 284.5h4M305.5 282.5v4"/>
<path d="M361.5 286.5h4M363.5 284.5v4"/>
<path d="M296.5 256.5h4M298.5 254.5v4"/>
<path d="M292.5 229.5h4M294.5 227.5v4"/>
<path d="M344.5 235.5h4M346.5 233.5v4"/>
<path d="M299.5 204.5h4M301.5 202.5v4"/>
<path d="M306.5 180.5h4M308.5 178.5v4"/>
<path d="M316.5 156.5h4M318.5 154.5v4"/>
<path d="M326.5 138.5h4M328.5 136.5v4"/>
<path d="M356.5 158.5h4M358.5 156.5v4"/>
<path d="M337.5 122.5h4M339.5 120.5v4"/>
<path d="M348.5 105.5h4M350.5 103.5v4"/>
<path d="M361.5 92.5h4M363.5 90.5v4"/>
<path d="M375.5 80.5h4M377.5 78.5v4"/>
<path d="M413.5 114.5h4M415.5 112.5v4"/>
<path d="M549.5 104.5h4M551.5 102.5v4"/>
<path d="M413.5 332.5h4M415.5 330.5v4"/>
<path d="M556.5 327.5h4M558.5 325.5v4"/>
<path d="M493.5 361.5h4M495.5 359.5v4"/>
<path d="M415.5 218.5h10M420.5 213.5v10"/>
<path d="M382.5 258.5h8M386.5 254.5v8"/>
<path d="M536.5 223.5h10M541.5 218.5v10"/>
<path d="M496.7 69.5h3.6M498.5 67.7v3.6"/>
<path d="M375.7 287.5h3.6M377.5 285.7v3.6"/>
<path d="M401.7 294.5h3.6M403.5 292.7v3.6"/>
<path d="M347.7 214.5h3.6M349.5 212.7v3.6"/>
<path d="M370.7 149.5h3.6M372.5 147.7v3.6"/>
<path d="M428.7 108.5h3.6M430.5 106.7v3.6"/>
<path d="M542.7 191.5h3.6M544.5 189.7v3.6"/>
<path d="M529.7 190.5h3.6M531.5 188.7v3.6"/>
<path d="M463.7 276.5h3.6M465.5 274.7v3.6"/>
<path d="M424.7 280.5h3.6M426.5 278.7v3.6"/>
<path d="M408.7 312.5h3.6M410.5 310.7v3.6"/>
<path d="M552.7 306.5h3.6M554.5 304.7v3.6"/>
<path d="M489.7 341.5h3.6M491.5 339.7v3.6"/>
<path d="M379.7 216.5h3.6M381.5 214.7v3.6"/>
<path d="M379.7 223.5h3.6M381.5 221.7v3.6"/>
<path d="M376.7 276.5h3.6M378.5 274.7v3.6"/>
<path d="M398.7 276.5h3.6M400.5 274.7v3.6"/>
<path d="M453.7 227.5h3.6M455.5 225.7v3.6"/>
</g>
</svg></body></html>
